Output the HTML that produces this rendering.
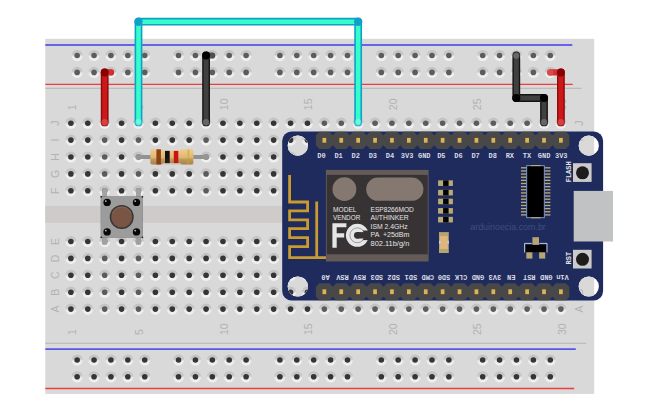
<!DOCTYPE html>
<html><head><meta charset="utf-8"><style>
html,body{margin:0;padding:0;background:#fff;width:660px;height:420px;overflow:hidden;}
svg{display:block;font-family:"Liberation Sans",sans-serif;}
</style></head><body>
<svg width="660" height="420" viewBox="0 0 660 420">
<defs>
<linearGradient id="ring" x1="0" y1="0" x2="0" y2="1">
<stop offset="0" stop-color="#c2c2c2"/><stop offset="0.42" stop-color="#c8c8c8"/><stop offset="0.58" stop-color="#ebebeb"/><stop offset="1" stop-color="#f3f3f3"/>
</linearGradient>
<linearGradient id="res" x1="0" y1="0" x2="0" y2="1">
<stop offset="0" stop-color="#f0cc90"/><stop offset="0.55" stop-color="#dfb574"/><stop offset="1" stop-color="#b88e52"/>
</linearGradient>
</defs>
<clipPath id="mh"><circle cx="297.8" cy="145.7" r="10.1"/><circle cx="588.8" cy="145.7" r="10.1"/><circle cx="297.8" cy="286.5" r="10.1"/><circle cx="588.8" cy="286.5" r="10.1"/></clipPath>
<rect width="660" height="420" fill="#fff"/>
<g>
<rect x="45.3" y="38.8" width="548.9" height="355.1" fill="#d9d9d9"/>
<rect x="45.3" y="205.9" width="548.9" height="16.9" fill="#cecbc9"/>
<line x1="45.3" y1="45.0" x2="572.3" y2="45.0" stroke="#6464ea" stroke-width="1.8"/>
<line x1="45.3" y1="84.4" x2="572.8" y2="84.4" stroke="#f03c3c" stroke-width="1.4"/>
<line x1="45.3" y1="88.4" x2="581.7" y2="88.4" stroke="#bcbcbc" stroke-width="1.2"/>
<line x1="45.3" y1="343.45" x2="586.2" y2="343.45" stroke="#bcbcbc" stroke-width="1.2"/>
<line x1="45.3" y1="349.05" x2="575.8" y2="349.05" stroke="#5656ec" stroke-width="1.8"/>
<line x1="45.3" y1="388.5" x2="574.2" y2="388.5" stroke="#f03c3c" stroke-width="1.4"/>
<circle cx="70.9" cy="123.2" r="5.6" fill="url(#ring)"/>
<circle cx="70.9" cy="123.2" r="2.8" fill="#353535"/>
<circle cx="87.8" cy="123.2" r="5.6" fill="url(#ring)"/>
<circle cx="87.8" cy="123.2" r="2.8" fill="#353535"/>
<circle cx="104.69" cy="123.2" r="5.6" fill="url(#ring)"/>
<circle cx="104.69" cy="123.2" r="2.8" fill="#5c5c5c"/>
<circle cx="121.59" cy="123.2" r="5.6" fill="url(#ring)"/>
<circle cx="121.59" cy="123.2" r="2.8" fill="#353535"/>
<circle cx="138.49" cy="123.2" r="5.6" fill="url(#ring)"/>
<circle cx="138.49" cy="123.2" r="2.8" fill="#5c5c5c"/>
<circle cx="155.38" cy="123.2" r="5.6" fill="url(#ring)"/>
<circle cx="155.38" cy="123.2" r="2.8" fill="#353535"/>
<circle cx="172.28" cy="123.2" r="5.6" fill="url(#ring)"/>
<circle cx="172.28" cy="123.2" r="2.8" fill="#353535"/>
<circle cx="189.18" cy="123.2" r="5.6" fill="url(#ring)"/>
<circle cx="189.18" cy="123.2" r="2.8" fill="#353535"/>
<circle cx="206.08" cy="123.2" r="5.6" fill="url(#ring)"/>
<circle cx="206.08" cy="123.2" r="2.8" fill="#5c5c5c"/>
<circle cx="222.97" cy="123.2" r="5.6" fill="url(#ring)"/>
<circle cx="222.97" cy="123.2" r="2.8" fill="#353535"/>
<circle cx="239.87" cy="123.2" r="5.6" fill="url(#ring)"/>
<circle cx="239.87" cy="123.2" r="2.8" fill="#353535"/>
<circle cx="256.77" cy="123.2" r="5.6" fill="url(#ring)"/>
<circle cx="256.77" cy="123.2" r="2.8" fill="#353535"/>
<circle cx="273.66" cy="123.2" r="5.6" fill="url(#ring)"/>
<circle cx="273.66" cy="123.2" r="2.8" fill="#353535"/>
<circle cx="290.56" cy="123.2" r="5.6" fill="url(#ring)"/>
<circle cx="290.56" cy="123.2" r="2.8" fill="#353535"/>
<circle cx="307.46" cy="123.2" r="5.6" fill="url(#ring)"/>
<circle cx="307.46" cy="123.2" r="2.8" fill="#353535"/>
<circle cx="324.36" cy="123.2" r="5.6" fill="url(#ring)"/>
<circle cx="324.36" cy="123.2" r="2.8" fill="#5c5c5c"/>
<circle cx="341.25" cy="123.2" r="5.6" fill="url(#ring)"/>
<circle cx="341.25" cy="123.2" r="2.8" fill="#5c5c5c"/>
<circle cx="358.15" cy="123.2" r="5.6" fill="url(#ring)"/>
<circle cx="358.15" cy="123.2" r="2.8" fill="#5c5c5c"/>
<circle cx="375.05" cy="123.2" r="5.6" fill="url(#ring)"/>
<circle cx="375.05" cy="123.2" r="2.8" fill="#5c5c5c"/>
<circle cx="391.94" cy="123.2" r="5.6" fill="url(#ring)"/>
<circle cx="391.94" cy="123.2" r="2.8" fill="#5c5c5c"/>
<circle cx="408.84" cy="123.2" r="5.6" fill="url(#ring)"/>
<circle cx="408.84" cy="123.2" r="2.8" fill="#5c5c5c"/>
<circle cx="425.74" cy="123.2" r="5.6" fill="url(#ring)"/>
<circle cx="425.74" cy="123.2" r="2.8" fill="#5c5c5c"/>
<circle cx="442.63" cy="123.2" r="5.6" fill="url(#ring)"/>
<circle cx="442.63" cy="123.2" r="2.8" fill="#5c5c5c"/>
<circle cx="459.53" cy="123.2" r="5.6" fill="url(#ring)"/>
<circle cx="459.53" cy="123.2" r="2.8" fill="#5c5c5c"/>
<circle cx="476.43" cy="123.2" r="5.6" fill="url(#ring)"/>
<circle cx="476.43" cy="123.2" r="2.8" fill="#5c5c5c"/>
<circle cx="493.32" cy="123.2" r="5.6" fill="url(#ring)"/>
<circle cx="493.32" cy="123.2" r="2.8" fill="#5c5c5c"/>
<circle cx="510.22" cy="123.2" r="5.6" fill="url(#ring)"/>
<circle cx="510.22" cy="123.2" r="2.8" fill="#5c5c5c"/>
<circle cx="527.12" cy="123.2" r="5.6" fill="url(#ring)"/>
<circle cx="527.12" cy="123.2" r="2.8" fill="#5c5c5c"/>
<circle cx="544.02" cy="123.2" r="5.6" fill="url(#ring)"/>
<circle cx="544.02" cy="123.2" r="2.8" fill="#5c5c5c"/>
<circle cx="560.91" cy="123.2" r="5.6" fill="url(#ring)"/>
<circle cx="560.91" cy="123.2" r="2.8" fill="#5c5c5c"/>
<circle cx="70.9" cy="140.1" r="5.6" fill="url(#ring)"/>
<circle cx="70.9" cy="140.1" r="2.8" fill="#353535"/>
<circle cx="87.8" cy="140.1" r="5.6" fill="url(#ring)"/>
<circle cx="87.8" cy="140.1" r="2.8" fill="#353535"/>
<circle cx="104.69" cy="140.1" r="5.6" fill="url(#ring)"/>
<circle cx="104.69" cy="140.1" r="2.8" fill="#5c5c5c"/>
<circle cx="121.59" cy="140.1" r="5.6" fill="url(#ring)"/>
<circle cx="121.59" cy="140.1" r="2.8" fill="#353535"/>
<circle cx="138.49" cy="140.1" r="5.6" fill="url(#ring)"/>
<circle cx="138.49" cy="140.1" r="2.8" fill="#5c5c5c"/>
<circle cx="155.38" cy="140.1" r="5.6" fill="url(#ring)"/>
<circle cx="155.38" cy="140.1" r="2.8" fill="#353535"/>
<circle cx="172.28" cy="140.1" r="5.6" fill="url(#ring)"/>
<circle cx="172.28" cy="140.1" r="2.8" fill="#353535"/>
<circle cx="189.18" cy="140.1" r="5.6" fill="url(#ring)"/>
<circle cx="189.18" cy="140.1" r="2.8" fill="#353535"/>
<circle cx="206.08" cy="140.1" r="5.6" fill="url(#ring)"/>
<circle cx="206.08" cy="140.1" r="2.8" fill="#5c5c5c"/>
<circle cx="222.97" cy="140.1" r="5.6" fill="url(#ring)"/>
<circle cx="222.97" cy="140.1" r="2.8" fill="#353535"/>
<circle cx="239.87" cy="140.1" r="5.6" fill="url(#ring)"/>
<circle cx="239.87" cy="140.1" r="2.8" fill="#353535"/>
<circle cx="256.77" cy="140.1" r="5.6" fill="url(#ring)"/>
<circle cx="256.77" cy="140.1" r="2.8" fill="#353535"/>
<circle cx="273.66" cy="140.1" r="5.6" fill="url(#ring)"/>
<circle cx="273.66" cy="140.1" r="2.8" fill="#353535"/>
<circle cx="290.56" cy="140.1" r="5.6" fill="url(#ring)"/>
<circle cx="290.56" cy="140.1" r="2.8" fill="#353535"/>
<circle cx="307.46" cy="140.1" r="5.6" fill="url(#ring)"/>
<circle cx="307.46" cy="140.1" r="2.8" fill="#353535"/>
<circle cx="324.36" cy="140.1" r="5.6" fill="url(#ring)"/>
<circle cx="324.36" cy="140.1" r="2.8" fill="#5c5c5c"/>
<circle cx="341.25" cy="140.1" r="5.6" fill="url(#ring)"/>
<circle cx="341.25" cy="140.1" r="2.8" fill="#5c5c5c"/>
<circle cx="358.15" cy="140.1" r="5.6" fill="url(#ring)"/>
<circle cx="358.15" cy="140.1" r="2.8" fill="#5c5c5c"/>
<circle cx="375.05" cy="140.1" r="5.6" fill="url(#ring)"/>
<circle cx="375.05" cy="140.1" r="2.8" fill="#5c5c5c"/>
<circle cx="391.94" cy="140.1" r="5.6" fill="url(#ring)"/>
<circle cx="391.94" cy="140.1" r="2.8" fill="#5c5c5c"/>
<circle cx="408.84" cy="140.1" r="5.6" fill="url(#ring)"/>
<circle cx="408.84" cy="140.1" r="2.8" fill="#5c5c5c"/>
<circle cx="425.74" cy="140.1" r="5.6" fill="url(#ring)"/>
<circle cx="425.74" cy="140.1" r="2.8" fill="#5c5c5c"/>
<circle cx="442.63" cy="140.1" r="5.6" fill="url(#ring)"/>
<circle cx="442.63" cy="140.1" r="2.8" fill="#5c5c5c"/>
<circle cx="459.53" cy="140.1" r="5.6" fill="url(#ring)"/>
<circle cx="459.53" cy="140.1" r="2.8" fill="#5c5c5c"/>
<circle cx="476.43" cy="140.1" r="5.6" fill="url(#ring)"/>
<circle cx="476.43" cy="140.1" r="2.8" fill="#5c5c5c"/>
<circle cx="493.32" cy="140.1" r="5.6" fill="url(#ring)"/>
<circle cx="493.32" cy="140.1" r="2.8" fill="#5c5c5c"/>
<circle cx="510.22" cy="140.1" r="5.6" fill="url(#ring)"/>
<circle cx="510.22" cy="140.1" r="2.8" fill="#5c5c5c"/>
<circle cx="527.12" cy="140.1" r="5.6" fill="url(#ring)"/>
<circle cx="527.12" cy="140.1" r="2.8" fill="#5c5c5c"/>
<circle cx="544.02" cy="140.1" r="5.6" fill="url(#ring)"/>
<circle cx="544.02" cy="140.1" r="2.8" fill="#5c5c5c"/>
<circle cx="560.91" cy="140.1" r="5.6" fill="url(#ring)"/>
<circle cx="560.91" cy="140.1" r="2.8" fill="#5c5c5c"/>
<circle cx="70.9" cy="157" r="5.6" fill="url(#ring)"/>
<circle cx="70.9" cy="157" r="2.8" fill="#353535"/>
<circle cx="87.8" cy="157" r="5.6" fill="url(#ring)"/>
<circle cx="87.8" cy="157" r="2.8" fill="#353535"/>
<circle cx="104.69" cy="157" r="5.6" fill="url(#ring)"/>
<circle cx="104.69" cy="157" r="2.8" fill="#5c5c5c"/>
<circle cx="121.59" cy="157" r="5.6" fill="url(#ring)"/>
<circle cx="121.59" cy="157" r="2.8" fill="#353535"/>
<circle cx="138.49" cy="157" r="5.6" fill="url(#ring)"/>
<circle cx="138.49" cy="157" r="2.8" fill="#5c5c5c"/>
<circle cx="155.38" cy="157" r="5.6" fill="url(#ring)"/>
<circle cx="155.38" cy="157" r="2.8" fill="#353535"/>
<circle cx="172.28" cy="157" r="5.6" fill="url(#ring)"/>
<circle cx="172.28" cy="157" r="2.8" fill="#353535"/>
<circle cx="189.18" cy="157" r="5.6" fill="url(#ring)"/>
<circle cx="189.18" cy="157" r="2.8" fill="#353535"/>
<circle cx="206.08" cy="157" r="5.6" fill="url(#ring)"/>
<circle cx="206.08" cy="157" r="2.8" fill="#5c5c5c"/>
<circle cx="222.97" cy="157" r="5.6" fill="url(#ring)"/>
<circle cx="222.97" cy="157" r="2.8" fill="#353535"/>
<circle cx="239.87" cy="157" r="5.6" fill="url(#ring)"/>
<circle cx="239.87" cy="157" r="2.8" fill="#353535"/>
<circle cx="256.77" cy="157" r="5.6" fill="url(#ring)"/>
<circle cx="256.77" cy="157" r="2.8" fill="#353535"/>
<circle cx="273.66" cy="157" r="5.6" fill="url(#ring)"/>
<circle cx="273.66" cy="157" r="2.8" fill="#353535"/>
<circle cx="290.56" cy="157" r="5.6" fill="url(#ring)"/>
<circle cx="290.56" cy="157" r="2.8" fill="#353535"/>
<circle cx="307.46" cy="157" r="5.6" fill="url(#ring)"/>
<circle cx="307.46" cy="157" r="2.8" fill="#353535"/>
<circle cx="324.36" cy="157" r="5.6" fill="url(#ring)"/>
<circle cx="324.36" cy="157" r="2.8" fill="#5c5c5c"/>
<circle cx="341.25" cy="157" r="5.6" fill="url(#ring)"/>
<circle cx="341.25" cy="157" r="2.8" fill="#5c5c5c"/>
<circle cx="358.15" cy="157" r="5.6" fill="url(#ring)"/>
<circle cx="358.15" cy="157" r="2.8" fill="#5c5c5c"/>
<circle cx="375.05" cy="157" r="5.6" fill="url(#ring)"/>
<circle cx="375.05" cy="157" r="2.8" fill="#5c5c5c"/>
<circle cx="391.94" cy="157" r="5.6" fill="url(#ring)"/>
<circle cx="391.94" cy="157" r="2.8" fill="#5c5c5c"/>
<circle cx="408.84" cy="157" r="5.6" fill="url(#ring)"/>
<circle cx="408.84" cy="157" r="2.8" fill="#5c5c5c"/>
<circle cx="425.74" cy="157" r="5.6" fill="url(#ring)"/>
<circle cx="425.74" cy="157" r="2.8" fill="#5c5c5c"/>
<circle cx="442.63" cy="157" r="5.6" fill="url(#ring)"/>
<circle cx="442.63" cy="157" r="2.8" fill="#5c5c5c"/>
<circle cx="459.53" cy="157" r="5.6" fill="url(#ring)"/>
<circle cx="459.53" cy="157" r="2.8" fill="#5c5c5c"/>
<circle cx="476.43" cy="157" r="5.6" fill="url(#ring)"/>
<circle cx="476.43" cy="157" r="2.8" fill="#5c5c5c"/>
<circle cx="493.32" cy="157" r="5.6" fill="url(#ring)"/>
<circle cx="493.32" cy="157" r="2.8" fill="#5c5c5c"/>
<circle cx="510.22" cy="157" r="5.6" fill="url(#ring)"/>
<circle cx="510.22" cy="157" r="2.8" fill="#5c5c5c"/>
<circle cx="527.12" cy="157" r="5.6" fill="url(#ring)"/>
<circle cx="527.12" cy="157" r="2.8" fill="#5c5c5c"/>
<circle cx="544.02" cy="157" r="5.6" fill="url(#ring)"/>
<circle cx="544.02" cy="157" r="2.8" fill="#5c5c5c"/>
<circle cx="560.91" cy="157" r="5.6" fill="url(#ring)"/>
<circle cx="560.91" cy="157" r="2.8" fill="#5c5c5c"/>
<circle cx="70.9" cy="173.9" r="5.6" fill="url(#ring)"/>
<circle cx="70.9" cy="173.9" r="2.8" fill="#353535"/>
<circle cx="87.8" cy="173.9" r="5.6" fill="url(#ring)"/>
<circle cx="87.8" cy="173.9" r="2.8" fill="#353535"/>
<circle cx="104.69" cy="173.9" r="5.6" fill="url(#ring)"/>
<circle cx="104.69" cy="173.9" r="2.8" fill="#5c5c5c"/>
<circle cx="121.59" cy="173.9" r="5.6" fill="url(#ring)"/>
<circle cx="121.59" cy="173.9" r="2.8" fill="#353535"/>
<circle cx="138.49" cy="173.9" r="5.6" fill="url(#ring)"/>
<circle cx="138.49" cy="173.9" r="2.8" fill="#5c5c5c"/>
<circle cx="155.38" cy="173.9" r="5.6" fill="url(#ring)"/>
<circle cx="155.38" cy="173.9" r="2.8" fill="#353535"/>
<circle cx="172.28" cy="173.9" r="5.6" fill="url(#ring)"/>
<circle cx="172.28" cy="173.9" r="2.8" fill="#353535"/>
<circle cx="189.18" cy="173.9" r="5.6" fill="url(#ring)"/>
<circle cx="189.18" cy="173.9" r="2.8" fill="#353535"/>
<circle cx="206.08" cy="173.9" r="5.6" fill="url(#ring)"/>
<circle cx="206.08" cy="173.9" r="2.8" fill="#5c5c5c"/>
<circle cx="222.97" cy="173.9" r="5.6" fill="url(#ring)"/>
<circle cx="222.97" cy="173.9" r="2.8" fill="#353535"/>
<circle cx="239.87" cy="173.9" r="5.6" fill="url(#ring)"/>
<circle cx="239.87" cy="173.9" r="2.8" fill="#353535"/>
<circle cx="256.77" cy="173.9" r="5.6" fill="url(#ring)"/>
<circle cx="256.77" cy="173.9" r="2.8" fill="#353535"/>
<circle cx="273.66" cy="173.9" r="5.6" fill="url(#ring)"/>
<circle cx="273.66" cy="173.9" r="2.8" fill="#353535"/>
<circle cx="290.56" cy="173.9" r="5.6" fill="url(#ring)"/>
<circle cx="290.56" cy="173.9" r="2.8" fill="#353535"/>
<circle cx="307.46" cy="173.9" r="5.6" fill="url(#ring)"/>
<circle cx="307.46" cy="173.9" r="2.8" fill="#353535"/>
<circle cx="324.36" cy="173.9" r="5.6" fill="url(#ring)"/>
<circle cx="324.36" cy="173.9" r="2.8" fill="#5c5c5c"/>
<circle cx="341.25" cy="173.9" r="5.6" fill="url(#ring)"/>
<circle cx="341.25" cy="173.9" r="2.8" fill="#5c5c5c"/>
<circle cx="358.15" cy="173.9" r="5.6" fill="url(#ring)"/>
<circle cx="358.15" cy="173.9" r="2.8" fill="#5c5c5c"/>
<circle cx="375.05" cy="173.9" r="5.6" fill="url(#ring)"/>
<circle cx="375.05" cy="173.9" r="2.8" fill="#5c5c5c"/>
<circle cx="391.94" cy="173.9" r="5.6" fill="url(#ring)"/>
<circle cx="391.94" cy="173.9" r="2.8" fill="#5c5c5c"/>
<circle cx="408.84" cy="173.9" r="5.6" fill="url(#ring)"/>
<circle cx="408.84" cy="173.9" r="2.8" fill="#5c5c5c"/>
<circle cx="425.74" cy="173.9" r="5.6" fill="url(#ring)"/>
<circle cx="425.74" cy="173.9" r="2.8" fill="#5c5c5c"/>
<circle cx="442.63" cy="173.9" r="5.6" fill="url(#ring)"/>
<circle cx="442.63" cy="173.9" r="2.8" fill="#5c5c5c"/>
<circle cx="459.53" cy="173.9" r="5.6" fill="url(#ring)"/>
<circle cx="459.53" cy="173.9" r="2.8" fill="#5c5c5c"/>
<circle cx="476.43" cy="173.9" r="5.6" fill="url(#ring)"/>
<circle cx="476.43" cy="173.9" r="2.8" fill="#5c5c5c"/>
<circle cx="493.32" cy="173.9" r="5.6" fill="url(#ring)"/>
<circle cx="493.32" cy="173.9" r="2.8" fill="#5c5c5c"/>
<circle cx="510.22" cy="173.9" r="5.6" fill="url(#ring)"/>
<circle cx="510.22" cy="173.9" r="2.8" fill="#5c5c5c"/>
<circle cx="527.12" cy="173.9" r="5.6" fill="url(#ring)"/>
<circle cx="527.12" cy="173.9" r="2.8" fill="#5c5c5c"/>
<circle cx="544.02" cy="173.9" r="5.6" fill="url(#ring)"/>
<circle cx="544.02" cy="173.9" r="2.8" fill="#5c5c5c"/>
<circle cx="560.91" cy="173.9" r="5.6" fill="url(#ring)"/>
<circle cx="560.91" cy="173.9" r="2.8" fill="#5c5c5c"/>
<circle cx="70.9" cy="190.8" r="5.6" fill="url(#ring)"/>
<circle cx="70.9" cy="190.8" r="2.8" fill="#353535"/>
<circle cx="87.8" cy="190.8" r="5.6" fill="url(#ring)"/>
<circle cx="87.8" cy="190.8" r="2.8" fill="#353535"/>
<circle cx="104.69" cy="190.8" r="5.6" fill="url(#ring)"/>
<circle cx="104.69" cy="190.8" r="2.8" fill="#5c5c5c"/>
<circle cx="121.59" cy="190.8" r="5.6" fill="url(#ring)"/>
<circle cx="121.59" cy="190.8" r="2.8" fill="#353535"/>
<circle cx="138.49" cy="190.8" r="5.6" fill="url(#ring)"/>
<circle cx="138.49" cy="190.8" r="2.8" fill="#5c5c5c"/>
<circle cx="155.38" cy="190.8" r="5.6" fill="url(#ring)"/>
<circle cx="155.38" cy="190.8" r="2.8" fill="#353535"/>
<circle cx="172.28" cy="190.8" r="5.6" fill="url(#ring)"/>
<circle cx="172.28" cy="190.8" r="2.8" fill="#353535"/>
<circle cx="189.18" cy="190.8" r="5.6" fill="url(#ring)"/>
<circle cx="189.18" cy="190.8" r="2.8" fill="#353535"/>
<circle cx="206.08" cy="190.8" r="5.6" fill="url(#ring)"/>
<circle cx="206.08" cy="190.8" r="2.8" fill="#5c5c5c"/>
<circle cx="222.97" cy="190.8" r="5.6" fill="url(#ring)"/>
<circle cx="222.97" cy="190.8" r="2.8" fill="#353535"/>
<circle cx="239.87" cy="190.8" r="5.6" fill="url(#ring)"/>
<circle cx="239.87" cy="190.8" r="2.8" fill="#353535"/>
<circle cx="256.77" cy="190.8" r="5.6" fill="url(#ring)"/>
<circle cx="256.77" cy="190.8" r="2.8" fill="#353535"/>
<circle cx="273.66" cy="190.8" r="5.6" fill="url(#ring)"/>
<circle cx="273.66" cy="190.8" r="2.8" fill="#353535"/>
<circle cx="290.56" cy="190.8" r="5.6" fill="url(#ring)"/>
<circle cx="290.56" cy="190.8" r="2.8" fill="#353535"/>
<circle cx="307.46" cy="190.8" r="5.6" fill="url(#ring)"/>
<circle cx="307.46" cy="190.8" r="2.8" fill="#353535"/>
<circle cx="324.36" cy="190.8" r="5.6" fill="url(#ring)"/>
<circle cx="324.36" cy="190.8" r="2.8" fill="#5c5c5c"/>
<circle cx="341.25" cy="190.8" r="5.6" fill="url(#ring)"/>
<circle cx="341.25" cy="190.8" r="2.8" fill="#5c5c5c"/>
<circle cx="358.15" cy="190.8" r="5.6" fill="url(#ring)"/>
<circle cx="358.15" cy="190.8" r="2.8" fill="#5c5c5c"/>
<circle cx="375.05" cy="190.8" r="5.6" fill="url(#ring)"/>
<circle cx="375.05" cy="190.8" r="2.8" fill="#5c5c5c"/>
<circle cx="391.94" cy="190.8" r="5.6" fill="url(#ring)"/>
<circle cx="391.94" cy="190.8" r="2.8" fill="#5c5c5c"/>
<circle cx="408.84" cy="190.8" r="5.6" fill="url(#ring)"/>
<circle cx="408.84" cy="190.8" r="2.8" fill="#5c5c5c"/>
<circle cx="425.74" cy="190.8" r="5.6" fill="url(#ring)"/>
<circle cx="425.74" cy="190.8" r="2.8" fill="#5c5c5c"/>
<circle cx="442.63" cy="190.8" r="5.6" fill="url(#ring)"/>
<circle cx="442.63" cy="190.8" r="2.8" fill="#5c5c5c"/>
<circle cx="459.53" cy="190.8" r="5.6" fill="url(#ring)"/>
<circle cx="459.53" cy="190.8" r="2.8" fill="#5c5c5c"/>
<circle cx="476.43" cy="190.8" r="5.6" fill="url(#ring)"/>
<circle cx="476.43" cy="190.8" r="2.8" fill="#5c5c5c"/>
<circle cx="493.32" cy="190.8" r="5.6" fill="url(#ring)"/>
<circle cx="493.32" cy="190.8" r="2.8" fill="#5c5c5c"/>
<circle cx="510.22" cy="190.8" r="5.6" fill="url(#ring)"/>
<circle cx="510.22" cy="190.8" r="2.8" fill="#5c5c5c"/>
<circle cx="527.12" cy="190.8" r="5.6" fill="url(#ring)"/>
<circle cx="527.12" cy="190.8" r="2.8" fill="#5c5c5c"/>
<circle cx="544.02" cy="190.8" r="5.6" fill="url(#ring)"/>
<circle cx="544.02" cy="190.8" r="2.8" fill="#5c5c5c"/>
<circle cx="560.91" cy="190.8" r="5.6" fill="url(#ring)"/>
<circle cx="560.91" cy="190.8" r="2.8" fill="#5c5c5c"/>
<circle cx="70.9" cy="241.5" r="5.6" fill="url(#ring)"/>
<circle cx="70.9" cy="241.5" r="2.8" fill="#353535"/>
<circle cx="87.8" cy="241.5" r="5.6" fill="url(#ring)"/>
<circle cx="87.8" cy="241.5" r="2.8" fill="#353535"/>
<circle cx="104.69" cy="241.5" r="5.6" fill="url(#ring)"/>
<circle cx="104.69" cy="241.5" r="2.8" fill="#5c5c5c"/>
<circle cx="121.59" cy="241.5" r="5.6" fill="url(#ring)"/>
<circle cx="121.59" cy="241.5" r="2.8" fill="#353535"/>
<circle cx="138.49" cy="241.5" r="5.6" fill="url(#ring)"/>
<circle cx="138.49" cy="241.5" r="2.8" fill="#5c5c5c"/>
<circle cx="155.38" cy="241.5" r="5.6" fill="url(#ring)"/>
<circle cx="155.38" cy="241.5" r="2.8" fill="#353535"/>
<circle cx="172.28" cy="241.5" r="5.6" fill="url(#ring)"/>
<circle cx="172.28" cy="241.5" r="2.8" fill="#353535"/>
<circle cx="189.18" cy="241.5" r="5.6" fill="url(#ring)"/>
<circle cx="189.18" cy="241.5" r="2.8" fill="#353535"/>
<circle cx="206.08" cy="241.5" r="5.6" fill="url(#ring)"/>
<circle cx="206.08" cy="241.5" r="2.8" fill="#353535"/>
<circle cx="222.97" cy="241.5" r="5.6" fill="url(#ring)"/>
<circle cx="222.97" cy="241.5" r="2.8" fill="#353535"/>
<circle cx="239.87" cy="241.5" r="5.6" fill="url(#ring)"/>
<circle cx="239.87" cy="241.5" r="2.8" fill="#353535"/>
<circle cx="256.77" cy="241.5" r="5.6" fill="url(#ring)"/>
<circle cx="256.77" cy="241.5" r="2.8" fill="#353535"/>
<circle cx="273.66" cy="241.5" r="5.6" fill="url(#ring)"/>
<circle cx="273.66" cy="241.5" r="2.8" fill="#353535"/>
<circle cx="290.56" cy="241.5" r="5.6" fill="url(#ring)"/>
<circle cx="290.56" cy="241.5" r="2.8" fill="#353535"/>
<circle cx="307.46" cy="241.5" r="5.6" fill="url(#ring)"/>
<circle cx="307.46" cy="241.5" r="2.8" fill="#353535"/>
<circle cx="324.36" cy="241.5" r="5.6" fill="url(#ring)"/>
<circle cx="324.36" cy="241.5" r="2.8" fill="#5c5c5c"/>
<circle cx="341.25" cy="241.5" r="5.6" fill="url(#ring)"/>
<circle cx="341.25" cy="241.5" r="2.8" fill="#5c5c5c"/>
<circle cx="358.15" cy="241.5" r="5.6" fill="url(#ring)"/>
<circle cx="358.15" cy="241.5" r="2.8" fill="#5c5c5c"/>
<circle cx="375.05" cy="241.5" r="5.6" fill="url(#ring)"/>
<circle cx="375.05" cy="241.5" r="2.8" fill="#5c5c5c"/>
<circle cx="391.94" cy="241.5" r="5.6" fill="url(#ring)"/>
<circle cx="391.94" cy="241.5" r="2.8" fill="#5c5c5c"/>
<circle cx="408.84" cy="241.5" r="5.6" fill="url(#ring)"/>
<circle cx="408.84" cy="241.5" r="2.8" fill="#5c5c5c"/>
<circle cx="425.74" cy="241.5" r="5.6" fill="url(#ring)"/>
<circle cx="425.74" cy="241.5" r="2.8" fill="#5c5c5c"/>
<circle cx="442.63" cy="241.5" r="5.6" fill="url(#ring)"/>
<circle cx="442.63" cy="241.5" r="2.8" fill="#5c5c5c"/>
<circle cx="459.53" cy="241.5" r="5.6" fill="url(#ring)"/>
<circle cx="459.53" cy="241.5" r="2.8" fill="#5c5c5c"/>
<circle cx="476.43" cy="241.5" r="5.6" fill="url(#ring)"/>
<circle cx="476.43" cy="241.5" r="2.8" fill="#5c5c5c"/>
<circle cx="493.32" cy="241.5" r="5.6" fill="url(#ring)"/>
<circle cx="493.32" cy="241.5" r="2.8" fill="#5c5c5c"/>
<circle cx="510.22" cy="241.5" r="5.6" fill="url(#ring)"/>
<circle cx="510.22" cy="241.5" r="2.8" fill="#5c5c5c"/>
<circle cx="527.12" cy="241.5" r="5.6" fill="url(#ring)"/>
<circle cx="527.12" cy="241.5" r="2.8" fill="#5c5c5c"/>
<circle cx="544.02" cy="241.5" r="5.6" fill="url(#ring)"/>
<circle cx="544.02" cy="241.5" r="2.8" fill="#5c5c5c"/>
<circle cx="560.91" cy="241.5" r="5.6" fill="url(#ring)"/>
<circle cx="560.91" cy="241.5" r="2.8" fill="#5c5c5c"/>
<circle cx="70.9" cy="258.4" r="5.6" fill="url(#ring)"/>
<circle cx="70.9" cy="258.4" r="2.8" fill="#353535"/>
<circle cx="87.8" cy="258.4" r="5.6" fill="url(#ring)"/>
<circle cx="87.8" cy="258.4" r="2.8" fill="#353535"/>
<circle cx="104.69" cy="258.4" r="5.6" fill="url(#ring)"/>
<circle cx="104.69" cy="258.4" r="2.8" fill="#5c5c5c"/>
<circle cx="121.59" cy="258.4" r="5.6" fill="url(#ring)"/>
<circle cx="121.59" cy="258.4" r="2.8" fill="#353535"/>
<circle cx="138.49" cy="258.4" r="5.6" fill="url(#ring)"/>
<circle cx="138.49" cy="258.4" r="2.8" fill="#5c5c5c"/>
<circle cx="155.38" cy="258.4" r="5.6" fill="url(#ring)"/>
<circle cx="155.38" cy="258.4" r="2.8" fill="#353535"/>
<circle cx="172.28" cy="258.4" r="5.6" fill="url(#ring)"/>
<circle cx="172.28" cy="258.4" r="2.8" fill="#353535"/>
<circle cx="189.18" cy="258.4" r="5.6" fill="url(#ring)"/>
<circle cx="189.18" cy="258.4" r="2.8" fill="#353535"/>
<circle cx="206.08" cy="258.4" r="5.6" fill="url(#ring)"/>
<circle cx="206.08" cy="258.4" r="2.8" fill="#353535"/>
<circle cx="222.97" cy="258.4" r="5.6" fill="url(#ring)"/>
<circle cx="222.97" cy="258.4" r="2.8" fill="#353535"/>
<circle cx="239.87" cy="258.4" r="5.6" fill="url(#ring)"/>
<circle cx="239.87" cy="258.4" r="2.8" fill="#353535"/>
<circle cx="256.77" cy="258.4" r="5.6" fill="url(#ring)"/>
<circle cx="256.77" cy="258.4" r="2.8" fill="#353535"/>
<circle cx="273.66" cy="258.4" r="5.6" fill="url(#ring)"/>
<circle cx="273.66" cy="258.4" r="2.8" fill="#353535"/>
<circle cx="290.56" cy="258.4" r="5.6" fill="url(#ring)"/>
<circle cx="290.56" cy="258.4" r="2.8" fill="#353535"/>
<circle cx="307.46" cy="258.4" r="5.6" fill="url(#ring)"/>
<circle cx="307.46" cy="258.4" r="2.8" fill="#353535"/>
<circle cx="324.36" cy="258.4" r="5.6" fill="url(#ring)"/>
<circle cx="324.36" cy="258.4" r="2.8" fill="#5c5c5c"/>
<circle cx="341.25" cy="258.4" r="5.6" fill="url(#ring)"/>
<circle cx="341.25" cy="258.4" r="2.8" fill="#5c5c5c"/>
<circle cx="358.15" cy="258.4" r="5.6" fill="url(#ring)"/>
<circle cx="358.15" cy="258.4" r="2.8" fill="#5c5c5c"/>
<circle cx="375.05" cy="258.4" r="5.6" fill="url(#ring)"/>
<circle cx="375.05" cy="258.4" r="2.8" fill="#5c5c5c"/>
<circle cx="391.94" cy="258.4" r="5.6" fill="url(#ring)"/>
<circle cx="391.94" cy="258.4" r="2.8" fill="#5c5c5c"/>
<circle cx="408.84" cy="258.4" r="5.6" fill="url(#ring)"/>
<circle cx="408.84" cy="258.4" r="2.8" fill="#5c5c5c"/>
<circle cx="425.74" cy="258.4" r="5.6" fill="url(#ring)"/>
<circle cx="425.74" cy="258.4" r="2.8" fill="#5c5c5c"/>
<circle cx="442.63" cy="258.4" r="5.6" fill="url(#ring)"/>
<circle cx="442.63" cy="258.4" r="2.8" fill="#5c5c5c"/>
<circle cx="459.53" cy="258.4" r="5.6" fill="url(#ring)"/>
<circle cx="459.53" cy="258.4" r="2.8" fill="#5c5c5c"/>
<circle cx="476.43" cy="258.4" r="5.6" fill="url(#ring)"/>
<circle cx="476.43" cy="258.4" r="2.8" fill="#5c5c5c"/>
<circle cx="493.32" cy="258.4" r="5.6" fill="url(#ring)"/>
<circle cx="493.32" cy="258.4" r="2.8" fill="#5c5c5c"/>
<circle cx="510.22" cy="258.4" r="5.6" fill="url(#ring)"/>
<circle cx="510.22" cy="258.4" r="2.8" fill="#5c5c5c"/>
<circle cx="527.12" cy="258.4" r="5.6" fill="url(#ring)"/>
<circle cx="527.12" cy="258.4" r="2.8" fill="#5c5c5c"/>
<circle cx="544.02" cy="258.4" r="5.6" fill="url(#ring)"/>
<circle cx="544.02" cy="258.4" r="2.8" fill="#5c5c5c"/>
<circle cx="560.91" cy="258.4" r="5.6" fill="url(#ring)"/>
<circle cx="560.91" cy="258.4" r="2.8" fill="#5c5c5c"/>
<circle cx="70.9" cy="275.3" r="5.6" fill="url(#ring)"/>
<circle cx="70.9" cy="275.3" r="2.8" fill="#353535"/>
<circle cx="87.8" cy="275.3" r="5.6" fill="url(#ring)"/>
<circle cx="87.8" cy="275.3" r="2.8" fill="#353535"/>
<circle cx="104.69" cy="275.3" r="5.6" fill="url(#ring)"/>
<circle cx="104.69" cy="275.3" r="2.8" fill="#5c5c5c"/>
<circle cx="121.59" cy="275.3" r="5.6" fill="url(#ring)"/>
<circle cx="121.59" cy="275.3" r="2.8" fill="#353535"/>
<circle cx="138.49" cy="275.3" r="5.6" fill="url(#ring)"/>
<circle cx="138.49" cy="275.3" r="2.8" fill="#5c5c5c"/>
<circle cx="155.38" cy="275.3" r="5.6" fill="url(#ring)"/>
<circle cx="155.38" cy="275.3" r="2.8" fill="#353535"/>
<circle cx="172.28" cy="275.3" r="5.6" fill="url(#ring)"/>
<circle cx="172.28" cy="275.3" r="2.8" fill="#353535"/>
<circle cx="189.18" cy="275.3" r="5.6" fill="url(#ring)"/>
<circle cx="189.18" cy="275.3" r="2.8" fill="#353535"/>
<circle cx="206.08" cy="275.3" r="5.6" fill="url(#ring)"/>
<circle cx="206.08" cy="275.3" r="2.8" fill="#353535"/>
<circle cx="222.97" cy="275.3" r="5.6" fill="url(#ring)"/>
<circle cx="222.97" cy="275.3" r="2.8" fill="#353535"/>
<circle cx="239.87" cy="275.3" r="5.6" fill="url(#ring)"/>
<circle cx="239.87" cy="275.3" r="2.8" fill="#353535"/>
<circle cx="256.77" cy="275.3" r="5.6" fill="url(#ring)"/>
<circle cx="256.77" cy="275.3" r="2.8" fill="#353535"/>
<circle cx="273.66" cy="275.3" r="5.6" fill="url(#ring)"/>
<circle cx="273.66" cy="275.3" r="2.8" fill="#353535"/>
<circle cx="290.56" cy="275.3" r="5.6" fill="url(#ring)"/>
<circle cx="290.56" cy="275.3" r="2.8" fill="#353535"/>
<circle cx="307.46" cy="275.3" r="5.6" fill="url(#ring)"/>
<circle cx="307.46" cy="275.3" r="2.8" fill="#353535"/>
<circle cx="324.36" cy="275.3" r="5.6" fill="url(#ring)"/>
<circle cx="324.36" cy="275.3" r="2.8" fill="#5c5c5c"/>
<circle cx="341.25" cy="275.3" r="5.6" fill="url(#ring)"/>
<circle cx="341.25" cy="275.3" r="2.8" fill="#5c5c5c"/>
<circle cx="358.15" cy="275.3" r="5.6" fill="url(#ring)"/>
<circle cx="358.15" cy="275.3" r="2.8" fill="#5c5c5c"/>
<circle cx="375.05" cy="275.3" r="5.6" fill="url(#ring)"/>
<circle cx="375.05" cy="275.3" r="2.8" fill="#5c5c5c"/>
<circle cx="391.94" cy="275.3" r="5.6" fill="url(#ring)"/>
<circle cx="391.94" cy="275.3" r="2.8" fill="#5c5c5c"/>
<circle cx="408.84" cy="275.3" r="5.6" fill="url(#ring)"/>
<circle cx="408.84" cy="275.3" r="2.8" fill="#5c5c5c"/>
<circle cx="425.74" cy="275.3" r="5.6" fill="url(#ring)"/>
<circle cx="425.74" cy="275.3" r="2.8" fill="#5c5c5c"/>
<circle cx="442.63" cy="275.3" r="5.6" fill="url(#ring)"/>
<circle cx="442.63" cy="275.3" r="2.8" fill="#5c5c5c"/>
<circle cx="459.53" cy="275.3" r="5.6" fill="url(#ring)"/>
<circle cx="459.53" cy="275.3" r="2.8" fill="#5c5c5c"/>
<circle cx="476.43" cy="275.3" r="5.6" fill="url(#ring)"/>
<circle cx="476.43" cy="275.3" r="2.8" fill="#5c5c5c"/>
<circle cx="493.32" cy="275.3" r="5.6" fill="url(#ring)"/>
<circle cx="493.32" cy="275.3" r="2.8" fill="#5c5c5c"/>
<circle cx="510.22" cy="275.3" r="5.6" fill="url(#ring)"/>
<circle cx="510.22" cy="275.3" r="2.8" fill="#5c5c5c"/>
<circle cx="527.12" cy="275.3" r="5.6" fill="url(#ring)"/>
<circle cx="527.12" cy="275.3" r="2.8" fill="#5c5c5c"/>
<circle cx="544.02" cy="275.3" r="5.6" fill="url(#ring)"/>
<circle cx="544.02" cy="275.3" r="2.8" fill="#5c5c5c"/>
<circle cx="560.91" cy="275.3" r="5.6" fill="url(#ring)"/>
<circle cx="560.91" cy="275.3" r="2.8" fill="#5c5c5c"/>
<circle cx="70.9" cy="292.2" r="5.6" fill="url(#ring)"/>
<circle cx="70.9" cy="292.2" r="2.8" fill="#353535"/>
<circle cx="87.8" cy="292.2" r="5.6" fill="url(#ring)"/>
<circle cx="87.8" cy="292.2" r="2.8" fill="#353535"/>
<circle cx="104.69" cy="292.2" r="5.6" fill="url(#ring)"/>
<circle cx="104.69" cy="292.2" r="2.8" fill="#5c5c5c"/>
<circle cx="121.59" cy="292.2" r="5.6" fill="url(#ring)"/>
<circle cx="121.59" cy="292.2" r="2.8" fill="#353535"/>
<circle cx="138.49" cy="292.2" r="5.6" fill="url(#ring)"/>
<circle cx="138.49" cy="292.2" r="2.8" fill="#5c5c5c"/>
<circle cx="155.38" cy="292.2" r="5.6" fill="url(#ring)"/>
<circle cx="155.38" cy="292.2" r="2.8" fill="#353535"/>
<circle cx="172.28" cy="292.2" r="5.6" fill="url(#ring)"/>
<circle cx="172.28" cy="292.2" r="2.8" fill="#353535"/>
<circle cx="189.18" cy="292.2" r="5.6" fill="url(#ring)"/>
<circle cx="189.18" cy="292.2" r="2.8" fill="#353535"/>
<circle cx="206.08" cy="292.2" r="5.6" fill="url(#ring)"/>
<circle cx="206.08" cy="292.2" r="2.8" fill="#353535"/>
<circle cx="222.97" cy="292.2" r="5.6" fill="url(#ring)"/>
<circle cx="222.97" cy="292.2" r="2.8" fill="#353535"/>
<circle cx="239.87" cy="292.2" r="5.6" fill="url(#ring)"/>
<circle cx="239.87" cy="292.2" r="2.8" fill="#353535"/>
<circle cx="256.77" cy="292.2" r="5.6" fill="url(#ring)"/>
<circle cx="256.77" cy="292.2" r="2.8" fill="#353535"/>
<circle cx="273.66" cy="292.2" r="5.6" fill="url(#ring)"/>
<circle cx="273.66" cy="292.2" r="2.8" fill="#353535"/>
<circle cx="290.56" cy="292.2" r="5.6" fill="url(#ring)"/>
<circle cx="290.56" cy="292.2" r="2.8" fill="#353535"/>
<circle cx="307.46" cy="292.2" r="5.6" fill="url(#ring)"/>
<circle cx="307.46" cy="292.2" r="2.8" fill="#353535"/>
<circle cx="324.36" cy="292.2" r="5.6" fill="url(#ring)"/>
<circle cx="324.36" cy="292.2" r="2.8" fill="#5c5c5c"/>
<circle cx="341.25" cy="292.2" r="5.6" fill="url(#ring)"/>
<circle cx="341.25" cy="292.2" r="2.8" fill="#5c5c5c"/>
<circle cx="358.15" cy="292.2" r="5.6" fill="url(#ring)"/>
<circle cx="358.15" cy="292.2" r="2.8" fill="#5c5c5c"/>
<circle cx="375.05" cy="292.2" r="5.6" fill="url(#ring)"/>
<circle cx="375.05" cy="292.2" r="2.8" fill="#5c5c5c"/>
<circle cx="391.94" cy="292.2" r="5.6" fill="url(#ring)"/>
<circle cx="391.94" cy="292.2" r="2.8" fill="#5c5c5c"/>
<circle cx="408.84" cy="292.2" r="5.6" fill="url(#ring)"/>
<circle cx="408.84" cy="292.2" r="2.8" fill="#5c5c5c"/>
<circle cx="425.74" cy="292.2" r="5.6" fill="url(#ring)"/>
<circle cx="425.74" cy="292.2" r="2.8" fill="#5c5c5c"/>
<circle cx="442.63" cy="292.2" r="5.6" fill="url(#ring)"/>
<circle cx="442.63" cy="292.2" r="2.8" fill="#5c5c5c"/>
<circle cx="459.53" cy="292.2" r="5.6" fill="url(#ring)"/>
<circle cx="459.53" cy="292.2" r="2.8" fill="#5c5c5c"/>
<circle cx="476.43" cy="292.2" r="5.6" fill="url(#ring)"/>
<circle cx="476.43" cy="292.2" r="2.8" fill="#5c5c5c"/>
<circle cx="493.32" cy="292.2" r="5.6" fill="url(#ring)"/>
<circle cx="493.32" cy="292.2" r="2.8" fill="#5c5c5c"/>
<circle cx="510.22" cy="292.2" r="5.6" fill="url(#ring)"/>
<circle cx="510.22" cy="292.2" r="2.8" fill="#5c5c5c"/>
<circle cx="527.12" cy="292.2" r="5.6" fill="url(#ring)"/>
<circle cx="527.12" cy="292.2" r="2.8" fill="#5c5c5c"/>
<circle cx="544.02" cy="292.2" r="5.6" fill="url(#ring)"/>
<circle cx="544.02" cy="292.2" r="2.8" fill="#5c5c5c"/>
<circle cx="560.91" cy="292.2" r="5.6" fill="url(#ring)"/>
<circle cx="560.91" cy="292.2" r="2.8" fill="#5c5c5c"/>
<circle cx="70.9" cy="309.1" r="5.6" fill="url(#ring)"/>
<circle cx="70.9" cy="309.1" r="2.8" fill="#353535"/>
<circle cx="87.8" cy="309.1" r="5.6" fill="url(#ring)"/>
<circle cx="87.8" cy="309.1" r="2.8" fill="#353535"/>
<circle cx="104.69" cy="309.1" r="5.6" fill="url(#ring)"/>
<circle cx="104.69" cy="309.1" r="2.8" fill="#5c5c5c"/>
<circle cx="121.59" cy="309.1" r="5.6" fill="url(#ring)"/>
<circle cx="121.59" cy="309.1" r="2.8" fill="#353535"/>
<circle cx="138.49" cy="309.1" r="5.6" fill="url(#ring)"/>
<circle cx="138.49" cy="309.1" r="2.8" fill="#5c5c5c"/>
<circle cx="155.38" cy="309.1" r="5.6" fill="url(#ring)"/>
<circle cx="155.38" cy="309.1" r="2.8" fill="#353535"/>
<circle cx="172.28" cy="309.1" r="5.6" fill="url(#ring)"/>
<circle cx="172.28" cy="309.1" r="2.8" fill="#353535"/>
<circle cx="189.18" cy="309.1" r="5.6" fill="url(#ring)"/>
<circle cx="189.18" cy="309.1" r="2.8" fill="#353535"/>
<circle cx="206.08" cy="309.1" r="5.6" fill="url(#ring)"/>
<circle cx="206.08" cy="309.1" r="2.8" fill="#353535"/>
<circle cx="222.97" cy="309.1" r="5.6" fill="url(#ring)"/>
<circle cx="222.97" cy="309.1" r="2.8" fill="#353535"/>
<circle cx="239.87" cy="309.1" r="5.6" fill="url(#ring)"/>
<circle cx="239.87" cy="309.1" r="2.8" fill="#353535"/>
<circle cx="256.77" cy="309.1" r="5.6" fill="url(#ring)"/>
<circle cx="256.77" cy="309.1" r="2.8" fill="#353535"/>
<circle cx="273.66" cy="309.1" r="5.6" fill="url(#ring)"/>
<circle cx="273.66" cy="309.1" r="2.8" fill="#353535"/>
<circle cx="290.56" cy="309.1" r="5.6" fill="url(#ring)"/>
<circle cx="290.56" cy="309.1" r="2.8" fill="#353535"/>
<circle cx="307.46" cy="309.1" r="5.6" fill="url(#ring)"/>
<circle cx="307.46" cy="309.1" r="2.8" fill="#353535"/>
<circle cx="324.36" cy="309.1" r="5.6" fill="url(#ring)"/>
<circle cx="324.36" cy="309.1" r="2.8" fill="#5c5c5c"/>
<circle cx="341.25" cy="309.1" r="5.6" fill="url(#ring)"/>
<circle cx="341.25" cy="309.1" r="2.8" fill="#5c5c5c"/>
<circle cx="358.15" cy="309.1" r="5.6" fill="url(#ring)"/>
<circle cx="358.15" cy="309.1" r="2.8" fill="#5c5c5c"/>
<circle cx="375.05" cy="309.1" r="5.6" fill="url(#ring)"/>
<circle cx="375.05" cy="309.1" r="2.8" fill="#5c5c5c"/>
<circle cx="391.94" cy="309.1" r="5.6" fill="url(#ring)"/>
<circle cx="391.94" cy="309.1" r="2.8" fill="#5c5c5c"/>
<circle cx="408.84" cy="309.1" r="5.6" fill="url(#ring)"/>
<circle cx="408.84" cy="309.1" r="2.8" fill="#5c5c5c"/>
<circle cx="425.74" cy="309.1" r="5.6" fill="url(#ring)"/>
<circle cx="425.74" cy="309.1" r="2.8" fill="#5c5c5c"/>
<circle cx="442.63" cy="309.1" r="5.6" fill="url(#ring)"/>
<circle cx="442.63" cy="309.1" r="2.8" fill="#5c5c5c"/>
<circle cx="459.53" cy="309.1" r="5.6" fill="url(#ring)"/>
<circle cx="459.53" cy="309.1" r="2.8" fill="#5c5c5c"/>
<circle cx="476.43" cy="309.1" r="5.6" fill="url(#ring)"/>
<circle cx="476.43" cy="309.1" r="2.8" fill="#5c5c5c"/>
<circle cx="493.32" cy="309.1" r="5.6" fill="url(#ring)"/>
<circle cx="493.32" cy="309.1" r="2.8" fill="#5c5c5c"/>
<circle cx="510.22" cy="309.1" r="5.6" fill="url(#ring)"/>
<circle cx="510.22" cy="309.1" r="2.8" fill="#5c5c5c"/>
<circle cx="527.12" cy="309.1" r="5.6" fill="url(#ring)"/>
<circle cx="527.12" cy="309.1" r="2.8" fill="#5c5c5c"/>
<circle cx="544.02" cy="309.1" r="5.6" fill="url(#ring)"/>
<circle cx="544.02" cy="309.1" r="2.8" fill="#5c5c5c"/>
<circle cx="560.91" cy="309.1" r="5.6" fill="url(#ring)"/>
<circle cx="560.91" cy="309.1" r="2.8" fill="#5c5c5c"/>
<circle cx="77.15" cy="55.5" r="5.6" fill="url(#ring)"/>
<circle cx="77.15" cy="55.5" r="2.8" fill="#5c5c5c"/>
<circle cx="94.05" cy="55.5" r="5.6" fill="url(#ring)"/>
<circle cx="94.05" cy="55.5" r="2.8" fill="#5c5c5c"/>
<circle cx="110.94" cy="55.5" r="5.6" fill="url(#ring)"/>
<circle cx="110.94" cy="55.5" r="2.8" fill="#5c5c5c"/>
<circle cx="127.84" cy="55.5" r="5.6" fill="url(#ring)"/>
<circle cx="127.84" cy="55.5" r="2.8" fill="#5c5c5c"/>
<circle cx="144.74" cy="55.5" r="5.6" fill="url(#ring)"/>
<circle cx="144.74" cy="55.5" r="2.8" fill="#5c5c5c"/>
<circle cx="178.53" cy="55.5" r="5.6" fill="url(#ring)"/>
<circle cx="178.53" cy="55.5" r="2.8" fill="#5c5c5c"/>
<circle cx="195.43" cy="55.5" r="5.6" fill="url(#ring)"/>
<circle cx="195.43" cy="55.5" r="2.8" fill="#5c5c5c"/>
<circle cx="212.33" cy="55.5" r="5.6" fill="url(#ring)"/>
<circle cx="212.33" cy="55.5" r="2.8" fill="#5c5c5c"/>
<circle cx="229.22" cy="55.5" r="5.6" fill="url(#ring)"/>
<circle cx="229.22" cy="55.5" r="2.8" fill="#5c5c5c"/>
<circle cx="246.12" cy="55.5" r="5.6" fill="url(#ring)"/>
<circle cx="246.12" cy="55.5" r="2.8" fill="#5c5c5c"/>
<circle cx="279.91" cy="55.5" r="5.6" fill="url(#ring)"/>
<circle cx="279.91" cy="55.5" r="2.8" fill="#5c5c5c"/>
<circle cx="296.81" cy="55.5" r="5.6" fill="url(#ring)"/>
<circle cx="296.81" cy="55.5" r="2.8" fill="#5c5c5c"/>
<circle cx="313.71" cy="55.5" r="5.6" fill="url(#ring)"/>
<circle cx="313.71" cy="55.5" r="2.8" fill="#5c5c5c"/>
<circle cx="330.6" cy="55.5" r="5.6" fill="url(#ring)"/>
<circle cx="330.6" cy="55.5" r="2.8" fill="#5c5c5c"/>
<circle cx="347.5" cy="55.5" r="5.6" fill="url(#ring)"/>
<circle cx="347.5" cy="55.5" r="2.8" fill="#5c5c5c"/>
<circle cx="381.3" cy="55.5" r="5.6" fill="url(#ring)"/>
<circle cx="381.3" cy="55.5" r="2.8" fill="#5c5c5c"/>
<circle cx="398.19" cy="55.5" r="5.6" fill="url(#ring)"/>
<circle cx="398.19" cy="55.5" r="2.8" fill="#5c5c5c"/>
<circle cx="415.09" cy="55.5" r="5.6" fill="url(#ring)"/>
<circle cx="415.09" cy="55.5" r="2.8" fill="#5c5c5c"/>
<circle cx="431.99" cy="55.5" r="5.6" fill="url(#ring)"/>
<circle cx="431.99" cy="55.5" r="2.8" fill="#5c5c5c"/>
<circle cx="448.88" cy="55.5" r="5.6" fill="url(#ring)"/>
<circle cx="448.88" cy="55.5" r="2.8" fill="#5c5c5c"/>
<circle cx="482.68" cy="55.5" r="5.6" fill="url(#ring)"/>
<circle cx="482.68" cy="55.5" r="2.8" fill="#5c5c5c"/>
<circle cx="499.57" cy="55.5" r="5.6" fill="url(#ring)"/>
<circle cx="499.57" cy="55.5" r="2.8" fill="#5c5c5c"/>
<circle cx="516.47" cy="55.5" r="5.6" fill="url(#ring)"/>
<circle cx="516.47" cy="55.5" r="2.8" fill="#5c5c5c"/>
<circle cx="533.37" cy="55.5" r="5.6" fill="url(#ring)"/>
<circle cx="533.37" cy="55.5" r="2.8" fill="#5c5c5c"/>
<circle cx="550.27" cy="55.5" r="5.6" fill="url(#ring)"/>
<circle cx="550.27" cy="55.5" r="2.8" fill="#5c5c5c"/>
<circle cx="77.15" cy="72.4" r="5.6" fill="url(#ring)"/>
<circle cx="77.15" cy="72.4" r="2.8" fill="#5c5c5c"/>
<circle cx="94.05" cy="72.4" r="5.6" fill="url(#ring)"/>
<circle cx="94.05" cy="72.4" r="2.8" fill="#5c5c5c"/>
<circle cx="110.94" cy="72.4" r="5.6" fill="url(#ring)"/>
<circle cx="110.94" cy="72.4" r="2.8" fill="#5c5c5c"/>
<circle cx="127.84" cy="72.4" r="5.6" fill="url(#ring)"/>
<circle cx="127.84" cy="72.4" r="2.8" fill="#5c5c5c"/>
<circle cx="144.74" cy="72.4" r="5.6" fill="url(#ring)"/>
<circle cx="144.74" cy="72.4" r="2.8" fill="#5c5c5c"/>
<circle cx="178.53" cy="72.4" r="5.6" fill="url(#ring)"/>
<circle cx="178.53" cy="72.4" r="2.8" fill="#5c5c5c"/>
<circle cx="195.43" cy="72.4" r="5.6" fill="url(#ring)"/>
<circle cx="195.43" cy="72.4" r="2.8" fill="#5c5c5c"/>
<circle cx="212.33" cy="72.4" r="5.6" fill="url(#ring)"/>
<circle cx="212.33" cy="72.4" r="2.8" fill="#5c5c5c"/>
<circle cx="229.22" cy="72.4" r="5.6" fill="url(#ring)"/>
<circle cx="229.22" cy="72.4" r="2.8" fill="#5c5c5c"/>
<circle cx="246.12" cy="72.4" r="5.6" fill="url(#ring)"/>
<circle cx="246.12" cy="72.4" r="2.8" fill="#5c5c5c"/>
<circle cx="279.91" cy="72.4" r="5.6" fill="url(#ring)"/>
<circle cx="279.91" cy="72.4" r="2.8" fill="#5c5c5c"/>
<circle cx="296.81" cy="72.4" r="5.6" fill="url(#ring)"/>
<circle cx="296.81" cy="72.4" r="2.8" fill="#5c5c5c"/>
<circle cx="313.71" cy="72.4" r="5.6" fill="url(#ring)"/>
<circle cx="313.71" cy="72.4" r="2.8" fill="#5c5c5c"/>
<circle cx="330.6" cy="72.4" r="5.6" fill="url(#ring)"/>
<circle cx="330.6" cy="72.4" r="2.8" fill="#5c5c5c"/>
<circle cx="347.5" cy="72.4" r="5.6" fill="url(#ring)"/>
<circle cx="347.5" cy="72.4" r="2.8" fill="#5c5c5c"/>
<circle cx="381.3" cy="72.4" r="5.6" fill="url(#ring)"/>
<circle cx="381.3" cy="72.4" r="2.8" fill="#5c5c5c"/>
<circle cx="398.19" cy="72.4" r="5.6" fill="url(#ring)"/>
<circle cx="398.19" cy="72.4" r="2.8" fill="#5c5c5c"/>
<circle cx="415.09" cy="72.4" r="5.6" fill="url(#ring)"/>
<circle cx="415.09" cy="72.4" r="2.8" fill="#5c5c5c"/>
<circle cx="431.99" cy="72.4" r="5.6" fill="url(#ring)"/>
<circle cx="431.99" cy="72.4" r="2.8" fill="#5c5c5c"/>
<circle cx="448.88" cy="72.4" r="5.6" fill="url(#ring)"/>
<circle cx="448.88" cy="72.4" r="2.8" fill="#5c5c5c"/>
<circle cx="482.68" cy="72.4" r="5.6" fill="url(#ring)"/>
<circle cx="482.68" cy="72.4" r="2.8" fill="#5c5c5c"/>
<circle cx="499.57" cy="72.4" r="5.6" fill="url(#ring)"/>
<circle cx="499.57" cy="72.4" r="2.8" fill="#5c5c5c"/>
<circle cx="516.47" cy="72.4" r="5.6" fill="url(#ring)"/>
<circle cx="516.47" cy="72.4" r="2.8" fill="#5c5c5c"/>
<circle cx="533.37" cy="72.4" r="5.6" fill="url(#ring)"/>
<circle cx="533.37" cy="72.4" r="2.8" fill="#5c5c5c"/>
<circle cx="550.27" cy="72.4" r="5.6" fill="url(#ring)"/>
<circle cx="550.27" cy="72.4" r="2.8" fill="#5c5c5c"/>
<circle cx="77.15" cy="360" r="5.6" fill="url(#ring)"/>
<circle cx="77.15" cy="360" r="2.8" fill="#353535"/>
<circle cx="94.05" cy="360" r="5.6" fill="url(#ring)"/>
<circle cx="94.05" cy="360" r="2.8" fill="#353535"/>
<circle cx="110.94" cy="360" r="5.6" fill="url(#ring)"/>
<circle cx="110.94" cy="360" r="2.8" fill="#353535"/>
<circle cx="127.84" cy="360" r="5.6" fill="url(#ring)"/>
<circle cx="127.84" cy="360" r="2.8" fill="#353535"/>
<circle cx="144.74" cy="360" r="5.6" fill="url(#ring)"/>
<circle cx="144.74" cy="360" r="2.8" fill="#353535"/>
<circle cx="178.53" cy="360" r="5.6" fill="url(#ring)"/>
<circle cx="178.53" cy="360" r="2.8" fill="#353535"/>
<circle cx="195.43" cy="360" r="5.6" fill="url(#ring)"/>
<circle cx="195.43" cy="360" r="2.8" fill="#353535"/>
<circle cx="212.33" cy="360" r="5.6" fill="url(#ring)"/>
<circle cx="212.33" cy="360" r="2.8" fill="#353535"/>
<circle cx="229.22" cy="360" r="5.6" fill="url(#ring)"/>
<circle cx="229.22" cy="360" r="2.8" fill="#353535"/>
<circle cx="246.12" cy="360" r="5.6" fill="url(#ring)"/>
<circle cx="246.12" cy="360" r="2.8" fill="#353535"/>
<circle cx="279.91" cy="360" r="5.6" fill="url(#ring)"/>
<circle cx="279.91" cy="360" r="2.8" fill="#353535"/>
<circle cx="296.81" cy="360" r="5.6" fill="url(#ring)"/>
<circle cx="296.81" cy="360" r="2.8" fill="#353535"/>
<circle cx="313.71" cy="360" r="5.6" fill="url(#ring)"/>
<circle cx="313.71" cy="360" r="2.8" fill="#353535"/>
<circle cx="330.6" cy="360" r="5.6" fill="url(#ring)"/>
<circle cx="330.6" cy="360" r="2.8" fill="#353535"/>
<circle cx="347.5" cy="360" r="5.6" fill="url(#ring)"/>
<circle cx="347.5" cy="360" r="2.8" fill="#353535"/>
<circle cx="381.3" cy="360" r="5.6" fill="url(#ring)"/>
<circle cx="381.3" cy="360" r="2.8" fill="#353535"/>
<circle cx="398.19" cy="360" r="5.6" fill="url(#ring)"/>
<circle cx="398.19" cy="360" r="2.8" fill="#353535"/>
<circle cx="415.09" cy="360" r="5.6" fill="url(#ring)"/>
<circle cx="415.09" cy="360" r="2.8" fill="#353535"/>
<circle cx="431.99" cy="360" r="5.6" fill="url(#ring)"/>
<circle cx="431.99" cy="360" r="2.8" fill="#353535"/>
<circle cx="448.88" cy="360" r="5.6" fill="url(#ring)"/>
<circle cx="448.88" cy="360" r="2.8" fill="#353535"/>
<circle cx="482.68" cy="360" r="5.6" fill="url(#ring)"/>
<circle cx="482.68" cy="360" r="2.8" fill="#353535"/>
<circle cx="499.57" cy="360" r="5.6" fill="url(#ring)"/>
<circle cx="499.57" cy="360" r="2.8" fill="#353535"/>
<circle cx="516.47" cy="360" r="5.6" fill="url(#ring)"/>
<circle cx="516.47" cy="360" r="2.8" fill="#353535"/>
<circle cx="533.37" cy="360" r="5.6" fill="url(#ring)"/>
<circle cx="533.37" cy="360" r="2.8" fill="#353535"/>
<circle cx="550.27" cy="360" r="5.6" fill="url(#ring)"/>
<circle cx="550.27" cy="360" r="2.8" fill="#353535"/>
<circle cx="77.15" cy="376.8" r="5.6" fill="url(#ring)"/>
<circle cx="77.15" cy="376.8" r="2.8" fill="#353535"/>
<circle cx="94.05" cy="376.8" r="5.6" fill="url(#ring)"/>
<circle cx="94.05" cy="376.8" r="2.8" fill="#353535"/>
<circle cx="110.94" cy="376.8" r="5.6" fill="url(#ring)"/>
<circle cx="110.94" cy="376.8" r="2.8" fill="#353535"/>
<circle cx="127.84" cy="376.8" r="5.6" fill="url(#ring)"/>
<circle cx="127.84" cy="376.8" r="2.8" fill="#353535"/>
<circle cx="144.74" cy="376.8" r="5.6" fill="url(#ring)"/>
<circle cx="144.74" cy="376.8" r="2.8" fill="#353535"/>
<circle cx="178.53" cy="376.8" r="5.6" fill="url(#ring)"/>
<circle cx="178.53" cy="376.8" r="2.8" fill="#353535"/>
<circle cx="195.43" cy="376.8" r="5.6" fill="url(#ring)"/>
<circle cx="195.43" cy="376.8" r="2.8" fill="#353535"/>
<circle cx="212.33" cy="376.8" r="5.6" fill="url(#ring)"/>
<circle cx="212.33" cy="376.8" r="2.8" fill="#353535"/>
<circle cx="229.22" cy="376.8" r="5.6" fill="url(#ring)"/>
<circle cx="229.22" cy="376.8" r="2.8" fill="#353535"/>
<circle cx="246.12" cy="376.8" r="5.6" fill="url(#ring)"/>
<circle cx="246.12" cy="376.8" r="2.8" fill="#353535"/>
<circle cx="279.91" cy="376.8" r="5.6" fill="url(#ring)"/>
<circle cx="279.91" cy="376.8" r="2.8" fill="#353535"/>
<circle cx="296.81" cy="376.8" r="5.6" fill="url(#ring)"/>
<circle cx="296.81" cy="376.8" r="2.8" fill="#353535"/>
<circle cx="313.71" cy="376.8" r="5.6" fill="url(#ring)"/>
<circle cx="313.71" cy="376.8" r="2.8" fill="#353535"/>
<circle cx="330.6" cy="376.8" r="5.6" fill="url(#ring)"/>
<circle cx="330.6" cy="376.8" r="2.8" fill="#353535"/>
<circle cx="347.5" cy="376.8" r="5.6" fill="url(#ring)"/>
<circle cx="347.5" cy="376.8" r="2.8" fill="#353535"/>
<circle cx="381.3" cy="376.8" r="5.6" fill="url(#ring)"/>
<circle cx="381.3" cy="376.8" r="2.8" fill="#353535"/>
<circle cx="398.19" cy="376.8" r="5.6" fill="url(#ring)"/>
<circle cx="398.19" cy="376.8" r="2.8" fill="#353535"/>
<circle cx="415.09" cy="376.8" r="5.6" fill="url(#ring)"/>
<circle cx="415.09" cy="376.8" r="2.8" fill="#353535"/>
<circle cx="431.99" cy="376.8" r="5.6" fill="url(#ring)"/>
<circle cx="431.99" cy="376.8" r="2.8" fill="#353535"/>
<circle cx="448.88" cy="376.8" r="5.6" fill="url(#ring)"/>
<circle cx="448.88" cy="376.8" r="2.8" fill="#353535"/>
<circle cx="482.68" cy="376.8" r="5.6" fill="url(#ring)"/>
<circle cx="482.68" cy="376.8" r="2.8" fill="#353535"/>
<circle cx="499.57" cy="376.8" r="5.6" fill="url(#ring)"/>
<circle cx="499.57" cy="376.8" r="2.8" fill="#353535"/>
<circle cx="516.47" cy="376.8" r="5.6" fill="url(#ring)"/>
<circle cx="516.47" cy="376.8" r="2.8" fill="#353535"/>
<circle cx="533.37" cy="376.8" r="5.6" fill="url(#ring)"/>
<circle cx="533.37" cy="376.8" r="2.8" fill="#353535"/>
<circle cx="550.27" cy="376.8" r="5.6" fill="url(#ring)"/>
<circle cx="550.27" cy="376.8" r="2.8" fill="#353535"/>
<text x="0" y="0" transform="translate(55.3 123.2) rotate(-90)" font-size="10.5" fill="#b2b2b2" text-anchor="middle" dominant-baseline="central" font-family="Liberation Sans">J</text>
<text x="0" y="0" transform="translate(579 123.2) rotate(-90)" font-size="10.5" fill="#b2b2b2" text-anchor="middle" dominant-baseline="central" font-family="Liberation Sans">J</text>
<text x="0" y="0" transform="translate(55.3 140.1) rotate(-90)" font-size="10.5" fill="#b2b2b2" text-anchor="middle" dominant-baseline="central" font-family="Liberation Sans">I</text>
<text x="0" y="0" transform="translate(579 140.1) rotate(-90)" font-size="10.5" fill="#b2b2b2" text-anchor="middle" dominant-baseline="central" font-family="Liberation Sans">I</text>
<text x="0" y="0" transform="translate(55.3 157) rotate(-90)" font-size="10.5" fill="#b2b2b2" text-anchor="middle" dominant-baseline="central" font-family="Liberation Sans">H</text>
<text x="0" y="0" transform="translate(579 157) rotate(-90)" font-size="10.5" fill="#b2b2b2" text-anchor="middle" dominant-baseline="central" font-family="Liberation Sans">H</text>
<text x="0" y="0" transform="translate(55.3 173.9) rotate(-90)" font-size="10.5" fill="#b2b2b2" text-anchor="middle" dominant-baseline="central" font-family="Liberation Sans">G</text>
<text x="0" y="0" transform="translate(579 173.9) rotate(-90)" font-size="10.5" fill="#b2b2b2" text-anchor="middle" dominant-baseline="central" font-family="Liberation Sans">G</text>
<text x="0" y="0" transform="translate(55.3 190.8) rotate(-90)" font-size="10.5" fill="#b2b2b2" text-anchor="middle" dominant-baseline="central" font-family="Liberation Sans">F</text>
<text x="0" y="0" transform="translate(579 190.8) rotate(-90)" font-size="10.5" fill="#b2b2b2" text-anchor="middle" dominant-baseline="central" font-family="Liberation Sans">F</text>
<text x="0" y="0" transform="translate(55.3 241.5) rotate(-90)" font-size="10.5" fill="#b2b2b2" text-anchor="middle" dominant-baseline="central" font-family="Liberation Sans">E</text>
<text x="0" y="0" transform="translate(579 241.5) rotate(-90)" font-size="10.5" fill="#b2b2b2" text-anchor="middle" dominant-baseline="central" font-family="Liberation Sans">E</text>
<text x="0" y="0" transform="translate(55.3 258.4) rotate(-90)" font-size="10.5" fill="#b2b2b2" text-anchor="middle" dominant-baseline="central" font-family="Liberation Sans">D</text>
<text x="0" y="0" transform="translate(579 258.4) rotate(-90)" font-size="10.5" fill="#b2b2b2" text-anchor="middle" dominant-baseline="central" font-family="Liberation Sans">D</text>
<text x="0" y="0" transform="translate(55.3 275.3) rotate(-90)" font-size="10.5" fill="#b2b2b2" text-anchor="middle" dominant-baseline="central" font-family="Liberation Sans">C</text>
<text x="0" y="0" transform="translate(579 275.3) rotate(-90)" font-size="10.5" fill="#b2b2b2" text-anchor="middle" dominant-baseline="central" font-family="Liberation Sans">C</text>
<text x="0" y="0" transform="translate(55.3 292.2) rotate(-90)" font-size="10.5" fill="#b2b2b2" text-anchor="middle" dominant-baseline="central" font-family="Liberation Sans">B</text>
<text x="0" y="0" transform="translate(579 292.2) rotate(-90)" font-size="10.5" fill="#b2b2b2" text-anchor="middle" dominant-baseline="central" font-family="Liberation Sans">B</text>
<text x="0" y="0" transform="translate(55.3 309.1) rotate(-90)" font-size="10.5" fill="#b2b2b2" text-anchor="middle" dominant-baseline="central" font-family="Liberation Sans">A</text>
<text x="0" y="0" transform="translate(579 309.1) rotate(-90)" font-size="10.5" fill="#b2b2b2" text-anchor="middle" dominant-baseline="central" font-family="Liberation Sans">A</text>
<text x="0" y="0" transform="translate(71.5 110.2) rotate(-90)" font-size="10.5" fill="#b2b2b2" text-anchor="start" dominant-baseline="central" font-family="Liberation Sans">1</text>
<text x="0" y="0" transform="translate(71.5 335) rotate(-90)" font-size="10.5" fill="#b2b2b2" text-anchor="start" dominant-baseline="central" font-family="Liberation Sans">1</text>
<text x="0" y="0" transform="translate(139.09 110.2) rotate(-90)" font-size="10.5" fill="#b2b2b2" text-anchor="start" dominant-baseline="central" font-family="Liberation Sans">5</text>
<text x="0" y="0" transform="translate(139.09 335) rotate(-90)" font-size="10.5" fill="#b2b2b2" text-anchor="start" dominant-baseline="central" font-family="Liberation Sans">5</text>
<text x="0" y="0" transform="translate(223.57 110.2) rotate(-90)" font-size="10.5" fill="#b2b2b2" text-anchor="start" dominant-baseline="central" font-family="Liberation Sans">10</text>
<text x="0" y="0" transform="translate(223.57 335) rotate(-90)" font-size="10.5" fill="#b2b2b2" text-anchor="start" dominant-baseline="central" font-family="Liberation Sans">10</text>
<text x="0" y="0" transform="translate(308.06 110.2) rotate(-90)" font-size="10.5" fill="#b2b2b2" text-anchor="start" dominant-baseline="central" font-family="Liberation Sans">15</text>
<text x="0" y="0" transform="translate(308.06 335) rotate(-90)" font-size="10.5" fill="#b2b2b2" text-anchor="start" dominant-baseline="central" font-family="Liberation Sans">15</text>
<text x="0" y="0" transform="translate(392.54 110.2) rotate(-90)" font-size="10.5" fill="#b2b2b2" text-anchor="start" dominant-baseline="central" font-family="Liberation Sans">20</text>
<text x="0" y="0" transform="translate(392.54 335) rotate(-90)" font-size="10.5" fill="#b2b2b2" text-anchor="start" dominant-baseline="central" font-family="Liberation Sans">20</text>
<text x="0" y="0" transform="translate(477.03 110.2) rotate(-90)" font-size="10.5" fill="#b2b2b2" text-anchor="start" dominant-baseline="central" font-family="Liberation Sans">25</text>
<text x="0" y="0" transform="translate(477.03 335) rotate(-90)" font-size="10.5" fill="#b2b2b2" text-anchor="start" dominant-baseline="central" font-family="Liberation Sans">25</text>
<text x="0" y="0" transform="translate(561.51 110.2) rotate(-90)" font-size="10.5" fill="#b2b2b2" text-anchor="start" dominant-baseline="central" font-family="Liberation Sans">30</text>
<text x="0" y="0" transform="translate(561.51 335) rotate(-90)" font-size="10.5" fill="#b2b2b2" text-anchor="start" dominant-baseline="central" font-family="Liberation Sans">30</text>
</g>
<line x1="137.6" y1="157" x2="207.4" y2="157" stroke="#929292" stroke-width="4" stroke-linecap="round"/>
<circle cx="138.49" cy="157" r="2.9" fill="#959595"/>
<circle cx="206.08" cy="157" r="2.9" fill="#959595"/>
<path d="M152.4,149.1 H160 Q162,149.1 163,150.6 H180 Q181,149.1 183,149.1 H191.4 Q193.4,149.1 193.4,151.1 V162.6 Q193.4,164.6 191.4,164.6 H183 Q181,164.6 180,163.1 H163 Q162,164.6 160,164.6 H152.4 Q150.4,164.6 150.4,162.6 V151.1 Q150.4,149.1 152.4,149.1 Z" fill="url(#res)"/>
<rect x="156.4" y="149.3" width="4.5" height="15.2" fill="#8a3a10" opacity="0.95"/>
<rect x="165" y="150.9" width="4.7" height="12.2" fill="#111"/>
<rect x="173.8" y="150.9" width="4.5" height="12.2" fill="#d01010"/>
<rect x="187.6" y="149.5" width="1.6" height="15" fill="#c8b838"/>
<rect x="150.4" y="158.5" width="43" height="6" fill="#6a4a20" opacity="0.18"/>
<rect x="102.1" y="187.9" width="5" height="12" rx="2.5" fill="#a3a3a3"/>
<rect x="102" y="235" width="5.2" height="9.8" rx="0.8" fill="#a0a0a0"/>
<rect x="135.9" y="187.9" width="5" height="12" rx="2.5" fill="#a3a3a3"/>
<rect x="135.8" y="235" width="5.2" height="9.8" rx="0.8" fill="#a0a0a0"/>
<rect x="100.9" y="196.4" width="41.9" height="41.3" fill="#9c9c9c" stroke="#6a6a6a" stroke-width="0.3"/>
<circle cx="101.3" cy="196.8" r="0.9" fill="#222"/>
<circle cx="142.4" cy="196.8" r="0.9" fill="#222"/>
<circle cx="101.3" cy="237.3" r="0.9" fill="#222"/>
<circle cx="142.4" cy="237.3" r="0.9" fill="#222"/>
<circle cx="107.1" cy="202.4" r="3.7" fill="#080808"/>
<circle cx="105.8" cy="201.1" r="0.9" fill="#d0d0d0" opacity="0.9"/>
<circle cx="136.5" cy="202.4" r="3.7" fill="#080808"/>
<circle cx="135.2" cy="201.1" r="0.9" fill="#d0d0d0" opacity="0.9"/>
<circle cx="107.1" cy="231.9" r="3.7" fill="#080808"/>
<circle cx="105.8" cy="230.6" r="0.9" fill="#d0d0d0" opacity="0.9"/>
<circle cx="136.5" cy="231.9" r="3.7" fill="#080808"/>
<circle cx="135.2" cy="230.6" r="0.9" fill="#d0d0d0" opacity="0.9"/>
<circle cx="121.7" cy="217" r="12.0" fill="#363636"/>
<circle cx="121.7" cy="217" r="10.5" fill="#7a5546"/>
<path d="M112.5,213 A10,10 0 0 1 130.9,213" fill="none" stroke="#9a7565" stroke-width="0.8" opacity="0.7"/>
<rect x="282.2" y="131.5" width="320.9" height="168.9" rx="9.3" fill="#1e2b5c"/>
<rect x="573.7" y="190.9" width="39.3" height="50.6" fill="#c1c2c4"/>
<g clip-path="url(#mh)"><rect x="280" y="130" width="330" height="175" fill="#fff"/><rect x="45.3" y="38.8" width="548.9" height="355.1" fill="#d9d9d9"/>
<rect x="45.3" y="205.9" width="548.9" height="16.9" fill="#cecbc9"/>
<line x1="45.3" y1="45.0" x2="572.3" y2="45.0" stroke="#6464ea" stroke-width="1.8"/>
<line x1="45.3" y1="84.4" x2="572.8" y2="84.4" stroke="#f03c3c" stroke-width="1.4"/>
<line x1="45.3" y1="88.4" x2="581.7" y2="88.4" stroke="#bcbcbc" stroke-width="1.2"/>
<line x1="45.3" y1="343.45" x2="586.2" y2="343.45" stroke="#bcbcbc" stroke-width="1.2"/>
<line x1="45.3" y1="349.05" x2="575.8" y2="349.05" stroke="#5656ec" stroke-width="1.8"/>
<line x1="45.3" y1="388.5" x2="574.2" y2="388.5" stroke="#f03c3c" stroke-width="1.4"/>
<circle cx="70.9" cy="123.2" r="5.6" fill="url(#ring)"/>
<circle cx="70.9" cy="123.2" r="2.8" fill="#353535"/>
<circle cx="87.8" cy="123.2" r="5.6" fill="url(#ring)"/>
<circle cx="87.8" cy="123.2" r="2.8" fill="#353535"/>
<circle cx="104.69" cy="123.2" r="5.6" fill="url(#ring)"/>
<circle cx="104.69" cy="123.2" r="2.8" fill="#5c5c5c"/>
<circle cx="121.59" cy="123.2" r="5.6" fill="url(#ring)"/>
<circle cx="121.59" cy="123.2" r="2.8" fill="#353535"/>
<circle cx="138.49" cy="123.2" r="5.6" fill="url(#ring)"/>
<circle cx="138.49" cy="123.2" r="2.8" fill="#5c5c5c"/>
<circle cx="155.38" cy="123.2" r="5.6" fill="url(#ring)"/>
<circle cx="155.38" cy="123.2" r="2.8" fill="#353535"/>
<circle cx="172.28" cy="123.2" r="5.6" fill="url(#ring)"/>
<circle cx="172.28" cy="123.2" r="2.8" fill="#353535"/>
<circle cx="189.18" cy="123.2" r="5.6" fill="url(#ring)"/>
<circle cx="189.18" cy="123.2" r="2.8" fill="#353535"/>
<circle cx="206.08" cy="123.2" r="5.6" fill="url(#ring)"/>
<circle cx="206.08" cy="123.2" r="2.8" fill="#5c5c5c"/>
<circle cx="222.97" cy="123.2" r="5.6" fill="url(#ring)"/>
<circle cx="222.97" cy="123.2" r="2.8" fill="#353535"/>
<circle cx="239.87" cy="123.2" r="5.6" fill="url(#ring)"/>
<circle cx="239.87" cy="123.2" r="2.8" fill="#353535"/>
<circle cx="256.77" cy="123.2" r="5.6" fill="url(#ring)"/>
<circle cx="256.77" cy="123.2" r="2.8" fill="#353535"/>
<circle cx="273.66" cy="123.2" r="5.6" fill="url(#ring)"/>
<circle cx="273.66" cy="123.2" r="2.8" fill="#353535"/>
<circle cx="290.56" cy="123.2" r="5.6" fill="url(#ring)"/>
<circle cx="290.56" cy="123.2" r="2.8" fill="#353535"/>
<circle cx="307.46" cy="123.2" r="5.6" fill="url(#ring)"/>
<circle cx="307.46" cy="123.2" r="2.8" fill="#353535"/>
<circle cx="324.36" cy="123.2" r="5.6" fill="url(#ring)"/>
<circle cx="324.36" cy="123.2" r="2.8" fill="#5c5c5c"/>
<circle cx="341.25" cy="123.2" r="5.6" fill="url(#ring)"/>
<circle cx="341.25" cy="123.2" r="2.8" fill="#5c5c5c"/>
<circle cx="358.15" cy="123.2" r="5.6" fill="url(#ring)"/>
<circle cx="358.15" cy="123.2" r="2.8" fill="#5c5c5c"/>
<circle cx="375.05" cy="123.2" r="5.6" fill="url(#ring)"/>
<circle cx="375.05" cy="123.2" r="2.8" fill="#5c5c5c"/>
<circle cx="391.94" cy="123.2" r="5.6" fill="url(#ring)"/>
<circle cx="391.94" cy="123.2" r="2.8" fill="#5c5c5c"/>
<circle cx="408.84" cy="123.2" r="5.6" fill="url(#ring)"/>
<circle cx="408.84" cy="123.2" r="2.8" fill="#5c5c5c"/>
<circle cx="425.74" cy="123.2" r="5.6" fill="url(#ring)"/>
<circle cx="425.74" cy="123.2" r="2.8" fill="#5c5c5c"/>
<circle cx="442.63" cy="123.2" r="5.6" fill="url(#ring)"/>
<circle cx="442.63" cy="123.2" r="2.8" fill="#5c5c5c"/>
<circle cx="459.53" cy="123.2" r="5.6" fill="url(#ring)"/>
<circle cx="459.53" cy="123.2" r="2.8" fill="#5c5c5c"/>
<circle cx="476.43" cy="123.2" r="5.6" fill="url(#ring)"/>
<circle cx="476.43" cy="123.2" r="2.8" fill="#5c5c5c"/>
<circle cx="493.32" cy="123.2" r="5.6" fill="url(#ring)"/>
<circle cx="493.32" cy="123.2" r="2.8" fill="#5c5c5c"/>
<circle cx="510.22" cy="123.2" r="5.6" fill="url(#ring)"/>
<circle cx="510.22" cy="123.2" r="2.8" fill="#5c5c5c"/>
<circle cx="527.12" cy="123.2" r="5.6" fill="url(#ring)"/>
<circle cx="527.12" cy="123.2" r="2.8" fill="#5c5c5c"/>
<circle cx="544.02" cy="123.2" r="5.6" fill="url(#ring)"/>
<circle cx="544.02" cy="123.2" r="2.8" fill="#5c5c5c"/>
<circle cx="560.91" cy="123.2" r="5.6" fill="url(#ring)"/>
<circle cx="560.91" cy="123.2" r="2.8" fill="#5c5c5c"/>
<circle cx="70.9" cy="140.1" r="5.6" fill="url(#ring)"/>
<circle cx="70.9" cy="140.1" r="2.8" fill="#353535"/>
<circle cx="87.8" cy="140.1" r="5.6" fill="url(#ring)"/>
<circle cx="87.8" cy="140.1" r="2.8" fill="#353535"/>
<circle cx="104.69" cy="140.1" r="5.6" fill="url(#ring)"/>
<circle cx="104.69" cy="140.1" r="2.8" fill="#5c5c5c"/>
<circle cx="121.59" cy="140.1" r="5.6" fill="url(#ring)"/>
<circle cx="121.59" cy="140.1" r="2.8" fill="#353535"/>
<circle cx="138.49" cy="140.1" r="5.6" fill="url(#ring)"/>
<circle cx="138.49" cy="140.1" r="2.8" fill="#5c5c5c"/>
<circle cx="155.38" cy="140.1" r="5.6" fill="url(#ring)"/>
<circle cx="155.38" cy="140.1" r="2.8" fill="#353535"/>
<circle cx="172.28" cy="140.1" r="5.6" fill="url(#ring)"/>
<circle cx="172.28" cy="140.1" r="2.8" fill="#353535"/>
<circle cx="189.18" cy="140.1" r="5.6" fill="url(#ring)"/>
<circle cx="189.18" cy="140.1" r="2.8" fill="#353535"/>
<circle cx="206.08" cy="140.1" r="5.6" fill="url(#ring)"/>
<circle cx="206.08" cy="140.1" r="2.8" fill="#5c5c5c"/>
<circle cx="222.97" cy="140.1" r="5.6" fill="url(#ring)"/>
<circle cx="222.97" cy="140.1" r="2.8" fill="#353535"/>
<circle cx="239.87" cy="140.1" r="5.6" fill="url(#ring)"/>
<circle cx="239.87" cy="140.1" r="2.8" fill="#353535"/>
<circle cx="256.77" cy="140.1" r="5.6" fill="url(#ring)"/>
<circle cx="256.77" cy="140.1" r="2.8" fill="#353535"/>
<circle cx="273.66" cy="140.1" r="5.6" fill="url(#ring)"/>
<circle cx="273.66" cy="140.1" r="2.8" fill="#353535"/>
<circle cx="290.56" cy="140.1" r="5.6" fill="url(#ring)"/>
<circle cx="290.56" cy="140.1" r="2.8" fill="#353535"/>
<circle cx="307.46" cy="140.1" r="5.6" fill="url(#ring)"/>
<circle cx="307.46" cy="140.1" r="2.8" fill="#353535"/>
<circle cx="324.36" cy="140.1" r="5.6" fill="url(#ring)"/>
<circle cx="324.36" cy="140.1" r="2.8" fill="#5c5c5c"/>
<circle cx="341.25" cy="140.1" r="5.6" fill="url(#ring)"/>
<circle cx="341.25" cy="140.1" r="2.8" fill="#5c5c5c"/>
<circle cx="358.15" cy="140.1" r="5.6" fill="url(#ring)"/>
<circle cx="358.15" cy="140.1" r="2.8" fill="#5c5c5c"/>
<circle cx="375.05" cy="140.1" r="5.6" fill="url(#ring)"/>
<circle cx="375.05" cy="140.1" r="2.8" fill="#5c5c5c"/>
<circle cx="391.94" cy="140.1" r="5.6" fill="url(#ring)"/>
<circle cx="391.94" cy="140.1" r="2.8" fill="#5c5c5c"/>
<circle cx="408.84" cy="140.1" r="5.6" fill="url(#ring)"/>
<circle cx="408.84" cy="140.1" r="2.8" fill="#5c5c5c"/>
<circle cx="425.74" cy="140.1" r="5.6" fill="url(#ring)"/>
<circle cx="425.74" cy="140.1" r="2.8" fill="#5c5c5c"/>
<circle cx="442.63" cy="140.1" r="5.6" fill="url(#ring)"/>
<circle cx="442.63" cy="140.1" r="2.8" fill="#5c5c5c"/>
<circle cx="459.53" cy="140.1" r="5.6" fill="url(#ring)"/>
<circle cx="459.53" cy="140.1" r="2.8" fill="#5c5c5c"/>
<circle cx="476.43" cy="140.1" r="5.6" fill="url(#ring)"/>
<circle cx="476.43" cy="140.1" r="2.8" fill="#5c5c5c"/>
<circle cx="493.32" cy="140.1" r="5.6" fill="url(#ring)"/>
<circle cx="493.32" cy="140.1" r="2.8" fill="#5c5c5c"/>
<circle cx="510.22" cy="140.1" r="5.6" fill="url(#ring)"/>
<circle cx="510.22" cy="140.1" r="2.8" fill="#5c5c5c"/>
<circle cx="527.12" cy="140.1" r="5.6" fill="url(#ring)"/>
<circle cx="527.12" cy="140.1" r="2.8" fill="#5c5c5c"/>
<circle cx="544.02" cy="140.1" r="5.6" fill="url(#ring)"/>
<circle cx="544.02" cy="140.1" r="2.8" fill="#5c5c5c"/>
<circle cx="560.91" cy="140.1" r="5.6" fill="url(#ring)"/>
<circle cx="560.91" cy="140.1" r="2.8" fill="#5c5c5c"/>
<circle cx="70.9" cy="157" r="5.6" fill="url(#ring)"/>
<circle cx="70.9" cy="157" r="2.8" fill="#353535"/>
<circle cx="87.8" cy="157" r="5.6" fill="url(#ring)"/>
<circle cx="87.8" cy="157" r="2.8" fill="#353535"/>
<circle cx="104.69" cy="157" r="5.6" fill="url(#ring)"/>
<circle cx="104.69" cy="157" r="2.8" fill="#5c5c5c"/>
<circle cx="121.59" cy="157" r="5.6" fill="url(#ring)"/>
<circle cx="121.59" cy="157" r="2.8" fill="#353535"/>
<circle cx="138.49" cy="157" r="5.6" fill="url(#ring)"/>
<circle cx="138.49" cy="157" r="2.8" fill="#5c5c5c"/>
<circle cx="155.38" cy="157" r="5.6" fill="url(#ring)"/>
<circle cx="155.38" cy="157" r="2.8" fill="#353535"/>
<circle cx="172.28" cy="157" r="5.6" fill="url(#ring)"/>
<circle cx="172.28" cy="157" r="2.8" fill="#353535"/>
<circle cx="189.18" cy="157" r="5.6" fill="url(#ring)"/>
<circle cx="189.18" cy="157" r="2.8" fill="#353535"/>
<circle cx="206.08" cy="157" r="5.6" fill="url(#ring)"/>
<circle cx="206.08" cy="157" r="2.8" fill="#5c5c5c"/>
<circle cx="222.97" cy="157" r="5.6" fill="url(#ring)"/>
<circle cx="222.97" cy="157" r="2.8" fill="#353535"/>
<circle cx="239.87" cy="157" r="5.6" fill="url(#ring)"/>
<circle cx="239.87" cy="157" r="2.8" fill="#353535"/>
<circle cx="256.77" cy="157" r="5.6" fill="url(#ring)"/>
<circle cx="256.77" cy="157" r="2.8" fill="#353535"/>
<circle cx="273.66" cy="157" r="5.6" fill="url(#ring)"/>
<circle cx="273.66" cy="157" r="2.8" fill="#353535"/>
<circle cx="290.56" cy="157" r="5.6" fill="url(#ring)"/>
<circle cx="290.56" cy="157" r="2.8" fill="#353535"/>
<circle cx="307.46" cy="157" r="5.6" fill="url(#ring)"/>
<circle cx="307.46" cy="157" r="2.8" fill="#353535"/>
<circle cx="324.36" cy="157" r="5.6" fill="url(#ring)"/>
<circle cx="324.36" cy="157" r="2.8" fill="#5c5c5c"/>
<circle cx="341.25" cy="157" r="5.6" fill="url(#ring)"/>
<circle cx="341.25" cy="157" r="2.8" fill="#5c5c5c"/>
<circle cx="358.15" cy="157" r="5.6" fill="url(#ring)"/>
<circle cx="358.15" cy="157" r="2.8" fill="#5c5c5c"/>
<circle cx="375.05" cy="157" r="5.6" fill="url(#ring)"/>
<circle cx="375.05" cy="157" r="2.8" fill="#5c5c5c"/>
<circle cx="391.94" cy="157" r="5.6" fill="url(#ring)"/>
<circle cx="391.94" cy="157" r="2.8" fill="#5c5c5c"/>
<circle cx="408.84" cy="157" r="5.6" fill="url(#ring)"/>
<circle cx="408.84" cy="157" r="2.8" fill="#5c5c5c"/>
<circle cx="425.74" cy="157" r="5.6" fill="url(#ring)"/>
<circle cx="425.74" cy="157" r="2.8" fill="#5c5c5c"/>
<circle cx="442.63" cy="157" r="5.6" fill="url(#ring)"/>
<circle cx="442.63" cy="157" r="2.8" fill="#5c5c5c"/>
<circle cx="459.53" cy="157" r="5.6" fill="url(#ring)"/>
<circle cx="459.53" cy="157" r="2.8" fill="#5c5c5c"/>
<circle cx="476.43" cy="157" r="5.6" fill="url(#ring)"/>
<circle cx="476.43" cy="157" r="2.8" fill="#5c5c5c"/>
<circle cx="493.32" cy="157" r="5.6" fill="url(#ring)"/>
<circle cx="493.32" cy="157" r="2.8" fill="#5c5c5c"/>
<circle cx="510.22" cy="157" r="5.6" fill="url(#ring)"/>
<circle cx="510.22" cy="157" r="2.8" fill="#5c5c5c"/>
<circle cx="527.12" cy="157" r="5.6" fill="url(#ring)"/>
<circle cx="527.12" cy="157" r="2.8" fill="#5c5c5c"/>
<circle cx="544.02" cy="157" r="5.6" fill="url(#ring)"/>
<circle cx="544.02" cy="157" r="2.8" fill="#5c5c5c"/>
<circle cx="560.91" cy="157" r="5.6" fill="url(#ring)"/>
<circle cx="560.91" cy="157" r="2.8" fill="#5c5c5c"/>
<circle cx="70.9" cy="173.9" r="5.6" fill="url(#ring)"/>
<circle cx="70.9" cy="173.9" r="2.8" fill="#353535"/>
<circle cx="87.8" cy="173.9" r="5.6" fill="url(#ring)"/>
<circle cx="87.8" cy="173.9" r="2.8" fill="#353535"/>
<circle cx="104.69" cy="173.9" r="5.6" fill="url(#ring)"/>
<circle cx="104.69" cy="173.9" r="2.8" fill="#5c5c5c"/>
<circle cx="121.59" cy="173.9" r="5.6" fill="url(#ring)"/>
<circle cx="121.59" cy="173.9" r="2.8" fill="#353535"/>
<circle cx="138.49" cy="173.9" r="5.6" fill="url(#ring)"/>
<circle cx="138.49" cy="173.9" r="2.8" fill="#5c5c5c"/>
<circle cx="155.38" cy="173.9" r="5.6" fill="url(#ring)"/>
<circle cx="155.38" cy="173.9" r="2.8" fill="#353535"/>
<circle cx="172.28" cy="173.9" r="5.6" fill="url(#ring)"/>
<circle cx="172.28" cy="173.9" r="2.8" fill="#353535"/>
<circle cx="189.18" cy="173.9" r="5.6" fill="url(#ring)"/>
<circle cx="189.18" cy="173.9" r="2.8" fill="#353535"/>
<circle cx="206.08" cy="173.9" r="5.6" fill="url(#ring)"/>
<circle cx="206.08" cy="173.9" r="2.8" fill="#5c5c5c"/>
<circle cx="222.97" cy="173.9" r="5.6" fill="url(#ring)"/>
<circle cx="222.97" cy="173.9" r="2.8" fill="#353535"/>
<circle cx="239.87" cy="173.9" r="5.6" fill="url(#ring)"/>
<circle cx="239.87" cy="173.9" r="2.8" fill="#353535"/>
<circle cx="256.77" cy="173.9" r="5.6" fill="url(#ring)"/>
<circle cx="256.77" cy="173.9" r="2.8" fill="#353535"/>
<circle cx="273.66" cy="173.9" r="5.6" fill="url(#ring)"/>
<circle cx="273.66" cy="173.9" r="2.8" fill="#353535"/>
<circle cx="290.56" cy="173.9" r="5.6" fill="url(#ring)"/>
<circle cx="290.56" cy="173.9" r="2.8" fill="#353535"/>
<circle cx="307.46" cy="173.9" r="5.6" fill="url(#ring)"/>
<circle cx="307.46" cy="173.9" r="2.8" fill="#353535"/>
<circle cx="324.36" cy="173.9" r="5.6" fill="url(#ring)"/>
<circle cx="324.36" cy="173.9" r="2.8" fill="#5c5c5c"/>
<circle cx="341.25" cy="173.9" r="5.6" fill="url(#ring)"/>
<circle cx="341.25" cy="173.9" r="2.8" fill="#5c5c5c"/>
<circle cx="358.15" cy="173.9" r="5.6" fill="url(#ring)"/>
<circle cx="358.15" cy="173.9" r="2.8" fill="#5c5c5c"/>
<circle cx="375.05" cy="173.9" r="5.6" fill="url(#ring)"/>
<circle cx="375.05" cy="173.9" r="2.8" fill="#5c5c5c"/>
<circle cx="391.94" cy="173.9" r="5.6" fill="url(#ring)"/>
<circle cx="391.94" cy="173.9" r="2.8" fill="#5c5c5c"/>
<circle cx="408.84" cy="173.9" r="5.6" fill="url(#ring)"/>
<circle cx="408.84" cy="173.9" r="2.8" fill="#5c5c5c"/>
<circle cx="425.74" cy="173.9" r="5.6" fill="url(#ring)"/>
<circle cx="425.74" cy="173.9" r="2.8" fill="#5c5c5c"/>
<circle cx="442.63" cy="173.9" r="5.6" fill="url(#ring)"/>
<circle cx="442.63" cy="173.9" r="2.8" fill="#5c5c5c"/>
<circle cx="459.53" cy="173.9" r="5.6" fill="url(#ring)"/>
<circle cx="459.53" cy="173.9" r="2.8" fill="#5c5c5c"/>
<circle cx="476.43" cy="173.9" r="5.6" fill="url(#ring)"/>
<circle cx="476.43" cy="173.9" r="2.8" fill="#5c5c5c"/>
<circle cx="493.32" cy="173.9" r="5.6" fill="url(#ring)"/>
<circle cx="493.32" cy="173.9" r="2.8" fill="#5c5c5c"/>
<circle cx="510.22" cy="173.9" r="5.6" fill="url(#ring)"/>
<circle cx="510.22" cy="173.9" r="2.8" fill="#5c5c5c"/>
<circle cx="527.12" cy="173.9" r="5.6" fill="url(#ring)"/>
<circle cx="527.12" cy="173.9" r="2.8" fill="#5c5c5c"/>
<circle cx="544.02" cy="173.9" r="5.6" fill="url(#ring)"/>
<circle cx="544.02" cy="173.9" r="2.8" fill="#5c5c5c"/>
<circle cx="560.91" cy="173.9" r="5.6" fill="url(#ring)"/>
<circle cx="560.91" cy="173.9" r="2.8" fill="#5c5c5c"/>
<circle cx="70.9" cy="190.8" r="5.6" fill="url(#ring)"/>
<circle cx="70.9" cy="190.8" r="2.8" fill="#353535"/>
<circle cx="87.8" cy="190.8" r="5.6" fill="url(#ring)"/>
<circle cx="87.8" cy="190.8" r="2.8" fill="#353535"/>
<circle cx="104.69" cy="190.8" r="5.6" fill="url(#ring)"/>
<circle cx="104.69" cy="190.8" r="2.8" fill="#5c5c5c"/>
<circle cx="121.59" cy="190.8" r="5.6" fill="url(#ring)"/>
<circle cx="121.59" cy="190.8" r="2.8" fill="#353535"/>
<circle cx="138.49" cy="190.8" r="5.6" fill="url(#ring)"/>
<circle cx="138.49" cy="190.8" r="2.8" fill="#5c5c5c"/>
<circle cx="155.38" cy="190.8" r="5.6" fill="url(#ring)"/>
<circle cx="155.38" cy="190.8" r="2.8" fill="#353535"/>
<circle cx="172.28" cy="190.8" r="5.6" fill="url(#ring)"/>
<circle cx="172.28" cy="190.8" r="2.8" fill="#353535"/>
<circle cx="189.18" cy="190.8" r="5.6" fill="url(#ring)"/>
<circle cx="189.18" cy="190.8" r="2.8" fill="#353535"/>
<circle cx="206.08" cy="190.8" r="5.6" fill="url(#ring)"/>
<circle cx="206.08" cy="190.8" r="2.8" fill="#5c5c5c"/>
<circle cx="222.97" cy="190.8" r="5.6" fill="url(#ring)"/>
<circle cx="222.97" cy="190.8" r="2.8" fill="#353535"/>
<circle cx="239.87" cy="190.8" r="5.6" fill="url(#ring)"/>
<circle cx="239.87" cy="190.8" r="2.8" fill="#353535"/>
<circle cx="256.77" cy="190.8" r="5.6" fill="url(#ring)"/>
<circle cx="256.77" cy="190.8" r="2.8" fill="#353535"/>
<circle cx="273.66" cy="190.8" r="5.6" fill="url(#ring)"/>
<circle cx="273.66" cy="190.8" r="2.8" fill="#353535"/>
<circle cx="290.56" cy="190.8" r="5.6" fill="url(#ring)"/>
<circle cx="290.56" cy="190.8" r="2.8" fill="#353535"/>
<circle cx="307.46" cy="190.8" r="5.6" fill="url(#ring)"/>
<circle cx="307.46" cy="190.8" r="2.8" fill="#353535"/>
<circle cx="324.36" cy="190.8" r="5.6" fill="url(#ring)"/>
<circle cx="324.36" cy="190.8" r="2.8" fill="#5c5c5c"/>
<circle cx="341.25" cy="190.8" r="5.6" fill="url(#ring)"/>
<circle cx="341.25" cy="190.8" r="2.8" fill="#5c5c5c"/>
<circle cx="358.15" cy="190.8" r="5.6" fill="url(#ring)"/>
<circle cx="358.15" cy="190.8" r="2.8" fill="#5c5c5c"/>
<circle cx="375.05" cy="190.8" r="5.6" fill="url(#ring)"/>
<circle cx="375.05" cy="190.8" r="2.8" fill="#5c5c5c"/>
<circle cx="391.94" cy="190.8" r="5.6" fill="url(#ring)"/>
<circle cx="391.94" cy="190.8" r="2.8" fill="#5c5c5c"/>
<circle cx="408.84" cy="190.8" r="5.6" fill="url(#ring)"/>
<circle cx="408.84" cy="190.8" r="2.8" fill="#5c5c5c"/>
<circle cx="425.74" cy="190.8" r="5.6" fill="url(#ring)"/>
<circle cx="425.74" cy="190.8" r="2.8" fill="#5c5c5c"/>
<circle cx="442.63" cy="190.8" r="5.6" fill="url(#ring)"/>
<circle cx="442.63" cy="190.8" r="2.8" fill="#5c5c5c"/>
<circle cx="459.53" cy="190.8" r="5.6" fill="url(#ring)"/>
<circle cx="459.53" cy="190.8" r="2.8" fill="#5c5c5c"/>
<circle cx="476.43" cy="190.8" r="5.6" fill="url(#ring)"/>
<circle cx="476.43" cy="190.8" r="2.8" fill="#5c5c5c"/>
<circle cx="493.32" cy="190.8" r="5.6" fill="url(#ring)"/>
<circle cx="493.32" cy="190.8" r="2.8" fill="#5c5c5c"/>
<circle cx="510.22" cy="190.8" r="5.6" fill="url(#ring)"/>
<circle cx="510.22" cy="190.8" r="2.8" fill="#5c5c5c"/>
<circle cx="527.12" cy="190.8" r="5.6" fill="url(#ring)"/>
<circle cx="527.12" cy="190.8" r="2.8" fill="#5c5c5c"/>
<circle cx="544.02" cy="190.8" r="5.6" fill="url(#ring)"/>
<circle cx="544.02" cy="190.8" r="2.8" fill="#5c5c5c"/>
<circle cx="560.91" cy="190.8" r="5.6" fill="url(#ring)"/>
<circle cx="560.91" cy="190.8" r="2.8" fill="#5c5c5c"/>
<circle cx="70.9" cy="241.5" r="5.6" fill="url(#ring)"/>
<circle cx="70.9" cy="241.5" r="2.8" fill="#353535"/>
<circle cx="87.8" cy="241.5" r="5.6" fill="url(#ring)"/>
<circle cx="87.8" cy="241.5" r="2.8" fill="#353535"/>
<circle cx="104.69" cy="241.5" r="5.6" fill="url(#ring)"/>
<circle cx="104.69" cy="241.5" r="2.8" fill="#5c5c5c"/>
<circle cx="121.59" cy="241.5" r="5.6" fill="url(#ring)"/>
<circle cx="121.59" cy="241.5" r="2.8" fill="#353535"/>
<circle cx="138.49" cy="241.5" r="5.6" fill="url(#ring)"/>
<circle cx="138.49" cy="241.5" r="2.8" fill="#5c5c5c"/>
<circle cx="155.38" cy="241.5" r="5.6" fill="url(#ring)"/>
<circle cx="155.38" cy="241.5" r="2.8" fill="#353535"/>
<circle cx="172.28" cy="241.5" r="5.6" fill="url(#ring)"/>
<circle cx="172.28" cy="241.5" r="2.8" fill="#353535"/>
<circle cx="189.18" cy="241.5" r="5.6" fill="url(#ring)"/>
<circle cx="189.18" cy="241.5" r="2.8" fill="#353535"/>
<circle cx="206.08" cy="241.5" r="5.6" fill="url(#ring)"/>
<circle cx="206.08" cy="241.5" r="2.8" fill="#353535"/>
<circle cx="222.97" cy="241.5" r="5.6" fill="url(#ring)"/>
<circle cx="222.97" cy="241.5" r="2.8" fill="#353535"/>
<circle cx="239.87" cy="241.5" r="5.6" fill="url(#ring)"/>
<circle cx="239.87" cy="241.5" r="2.8" fill="#353535"/>
<circle cx="256.77" cy="241.5" r="5.6" fill="url(#ring)"/>
<circle cx="256.77" cy="241.5" r="2.8" fill="#353535"/>
<circle cx="273.66" cy="241.5" r="5.6" fill="url(#ring)"/>
<circle cx="273.66" cy="241.5" r="2.8" fill="#353535"/>
<circle cx="290.56" cy="241.5" r="5.6" fill="url(#ring)"/>
<circle cx="290.56" cy="241.5" r="2.8" fill="#353535"/>
<circle cx="307.46" cy="241.5" r="5.6" fill="url(#ring)"/>
<circle cx="307.46" cy="241.5" r="2.8" fill="#353535"/>
<circle cx="324.36" cy="241.5" r="5.6" fill="url(#ring)"/>
<circle cx="324.36" cy="241.5" r="2.8" fill="#5c5c5c"/>
<circle cx="341.25" cy="241.5" r="5.6" fill="url(#ring)"/>
<circle cx="341.25" cy="241.5" r="2.8" fill="#5c5c5c"/>
<circle cx="358.15" cy="241.5" r="5.6" fill="url(#ring)"/>
<circle cx="358.15" cy="241.5" r="2.8" fill="#5c5c5c"/>
<circle cx="375.05" cy="241.5" r="5.6" fill="url(#ring)"/>
<circle cx="375.05" cy="241.5" r="2.8" fill="#5c5c5c"/>
<circle cx="391.94" cy="241.5" r="5.6" fill="url(#ring)"/>
<circle cx="391.94" cy="241.5" r="2.8" fill="#5c5c5c"/>
<circle cx="408.84" cy="241.5" r="5.6" fill="url(#ring)"/>
<circle cx="408.84" cy="241.5" r="2.8" fill="#5c5c5c"/>
<circle cx="425.74" cy="241.5" r="5.6" fill="url(#ring)"/>
<circle cx="425.74" cy="241.5" r="2.8" fill="#5c5c5c"/>
<circle cx="442.63" cy="241.5" r="5.6" fill="url(#ring)"/>
<circle cx="442.63" cy="241.5" r="2.8" fill="#5c5c5c"/>
<circle cx="459.53" cy="241.5" r="5.6" fill="url(#ring)"/>
<circle cx="459.53" cy="241.5" r="2.8" fill="#5c5c5c"/>
<circle cx="476.43" cy="241.5" r="5.6" fill="url(#ring)"/>
<circle cx="476.43" cy="241.5" r="2.8" fill="#5c5c5c"/>
<circle cx="493.32" cy="241.5" r="5.6" fill="url(#ring)"/>
<circle cx="493.32" cy="241.5" r="2.8" fill="#5c5c5c"/>
<circle cx="510.22" cy="241.5" r="5.6" fill="url(#ring)"/>
<circle cx="510.22" cy="241.5" r="2.8" fill="#5c5c5c"/>
<circle cx="527.12" cy="241.5" r="5.6" fill="url(#ring)"/>
<circle cx="527.12" cy="241.5" r="2.8" fill="#5c5c5c"/>
<circle cx="544.02" cy="241.5" r="5.6" fill="url(#ring)"/>
<circle cx="544.02" cy="241.5" r="2.8" fill="#5c5c5c"/>
<circle cx="560.91" cy="241.5" r="5.6" fill="url(#ring)"/>
<circle cx="560.91" cy="241.5" r="2.8" fill="#5c5c5c"/>
<circle cx="70.9" cy="258.4" r="5.6" fill="url(#ring)"/>
<circle cx="70.9" cy="258.4" r="2.8" fill="#353535"/>
<circle cx="87.8" cy="258.4" r="5.6" fill="url(#ring)"/>
<circle cx="87.8" cy="258.4" r="2.8" fill="#353535"/>
<circle cx="104.69" cy="258.4" r="5.6" fill="url(#ring)"/>
<circle cx="104.69" cy="258.4" r="2.8" fill="#5c5c5c"/>
<circle cx="121.59" cy="258.4" r="5.6" fill="url(#ring)"/>
<circle cx="121.59" cy="258.4" r="2.8" fill="#353535"/>
<circle cx="138.49" cy="258.4" r="5.6" fill="url(#ring)"/>
<circle cx="138.49" cy="258.4" r="2.8" fill="#5c5c5c"/>
<circle cx="155.38" cy="258.4" r="5.6" fill="url(#ring)"/>
<circle cx="155.38" cy="258.4" r="2.8" fill="#353535"/>
<circle cx="172.28" cy="258.4" r="5.6" fill="url(#ring)"/>
<circle cx="172.28" cy="258.4" r="2.8" fill="#353535"/>
<circle cx="189.18" cy="258.4" r="5.6" fill="url(#ring)"/>
<circle cx="189.18" cy="258.4" r="2.8" fill="#353535"/>
<circle cx="206.08" cy="258.4" r="5.6" fill="url(#ring)"/>
<circle cx="206.08" cy="258.4" r="2.8" fill="#353535"/>
<circle cx="222.97" cy="258.4" r="5.6" fill="url(#ring)"/>
<circle cx="222.97" cy="258.4" r="2.8" fill="#353535"/>
<circle cx="239.87" cy="258.4" r="5.6" fill="url(#ring)"/>
<circle cx="239.87" cy="258.4" r="2.8" fill="#353535"/>
<circle cx="256.77" cy="258.4" r="5.6" fill="url(#ring)"/>
<circle cx="256.77" cy="258.4" r="2.8" fill="#353535"/>
<circle cx="273.66" cy="258.4" r="5.6" fill="url(#ring)"/>
<circle cx="273.66" cy="258.4" r="2.8" fill="#353535"/>
<circle cx="290.56" cy="258.4" r="5.6" fill="url(#ring)"/>
<circle cx="290.56" cy="258.4" r="2.8" fill="#353535"/>
<circle cx="307.46" cy="258.4" r="5.6" fill="url(#ring)"/>
<circle cx="307.46" cy="258.4" r="2.8" fill="#353535"/>
<circle cx="324.36" cy="258.4" r="5.6" fill="url(#ring)"/>
<circle cx="324.36" cy="258.4" r="2.8" fill="#5c5c5c"/>
<circle cx="341.25" cy="258.4" r="5.6" fill="url(#ring)"/>
<circle cx="341.25" cy="258.4" r="2.8" fill="#5c5c5c"/>
<circle cx="358.15" cy="258.4" r="5.6" fill="url(#ring)"/>
<circle cx="358.15" cy="258.4" r="2.8" fill="#5c5c5c"/>
<circle cx="375.05" cy="258.4" r="5.6" fill="url(#ring)"/>
<circle cx="375.05" cy="258.4" r="2.8" fill="#5c5c5c"/>
<circle cx="391.94" cy="258.4" r="5.6" fill="url(#ring)"/>
<circle cx="391.94" cy="258.4" r="2.8" fill="#5c5c5c"/>
<circle cx="408.84" cy="258.4" r="5.6" fill="url(#ring)"/>
<circle cx="408.84" cy="258.4" r="2.8" fill="#5c5c5c"/>
<circle cx="425.74" cy="258.4" r="5.6" fill="url(#ring)"/>
<circle cx="425.74" cy="258.4" r="2.8" fill="#5c5c5c"/>
<circle cx="442.63" cy="258.4" r="5.6" fill="url(#ring)"/>
<circle cx="442.63" cy="258.4" r="2.8" fill="#5c5c5c"/>
<circle cx="459.53" cy="258.4" r="5.6" fill="url(#ring)"/>
<circle cx="459.53" cy="258.4" r="2.8" fill="#5c5c5c"/>
<circle cx="476.43" cy="258.4" r="5.6" fill="url(#ring)"/>
<circle cx="476.43" cy="258.4" r="2.8" fill="#5c5c5c"/>
<circle cx="493.32" cy="258.4" r="5.6" fill="url(#ring)"/>
<circle cx="493.32" cy="258.4" r="2.8" fill="#5c5c5c"/>
<circle cx="510.22" cy="258.4" r="5.6" fill="url(#ring)"/>
<circle cx="510.22" cy="258.4" r="2.8" fill="#5c5c5c"/>
<circle cx="527.12" cy="258.4" r="5.6" fill="url(#ring)"/>
<circle cx="527.12" cy="258.4" r="2.8" fill="#5c5c5c"/>
<circle cx="544.02" cy="258.4" r="5.6" fill="url(#ring)"/>
<circle cx="544.02" cy="258.4" r="2.8" fill="#5c5c5c"/>
<circle cx="560.91" cy="258.4" r="5.6" fill="url(#ring)"/>
<circle cx="560.91" cy="258.4" r="2.8" fill="#5c5c5c"/>
<circle cx="70.9" cy="275.3" r="5.6" fill="url(#ring)"/>
<circle cx="70.9" cy="275.3" r="2.8" fill="#353535"/>
<circle cx="87.8" cy="275.3" r="5.6" fill="url(#ring)"/>
<circle cx="87.8" cy="275.3" r="2.8" fill="#353535"/>
<circle cx="104.69" cy="275.3" r="5.6" fill="url(#ring)"/>
<circle cx="104.69" cy="275.3" r="2.8" fill="#5c5c5c"/>
<circle cx="121.59" cy="275.3" r="5.6" fill="url(#ring)"/>
<circle cx="121.59" cy="275.3" r="2.8" fill="#353535"/>
<circle cx="138.49" cy="275.3" r="5.6" fill="url(#ring)"/>
<circle cx="138.49" cy="275.3" r="2.8" fill="#5c5c5c"/>
<circle cx="155.38" cy="275.3" r="5.6" fill="url(#ring)"/>
<circle cx="155.38" cy="275.3" r="2.8" fill="#353535"/>
<circle cx="172.28" cy="275.3" r="5.6" fill="url(#ring)"/>
<circle cx="172.28" cy="275.3" r="2.8" fill="#353535"/>
<circle cx="189.18" cy="275.3" r="5.6" fill="url(#ring)"/>
<circle cx="189.18" cy="275.3" r="2.8" fill="#353535"/>
<circle cx="206.08" cy="275.3" r="5.6" fill="url(#ring)"/>
<circle cx="206.08" cy="275.3" r="2.8" fill="#353535"/>
<circle cx="222.97" cy="275.3" r="5.6" fill="url(#ring)"/>
<circle cx="222.97" cy="275.3" r="2.8" fill="#353535"/>
<circle cx="239.87" cy="275.3" r="5.6" fill="url(#ring)"/>
<circle cx="239.87" cy="275.3" r="2.8" fill="#353535"/>
<circle cx="256.77" cy="275.3" r="5.6" fill="url(#ring)"/>
<circle cx="256.77" cy="275.3" r="2.8" fill="#353535"/>
<circle cx="273.66" cy="275.3" r="5.6" fill="url(#ring)"/>
<circle cx="273.66" cy="275.3" r="2.8" fill="#353535"/>
<circle cx="290.56" cy="275.3" r="5.6" fill="url(#ring)"/>
<circle cx="290.56" cy="275.3" r="2.8" fill="#353535"/>
<circle cx="307.46" cy="275.3" r="5.6" fill="url(#ring)"/>
<circle cx="307.46" cy="275.3" r="2.8" fill="#353535"/>
<circle cx="324.36" cy="275.3" r="5.6" fill="url(#ring)"/>
<circle cx="324.36" cy="275.3" r="2.8" fill="#5c5c5c"/>
<circle cx="341.25" cy="275.3" r="5.6" fill="url(#ring)"/>
<circle cx="341.25" cy="275.3" r="2.8" fill="#5c5c5c"/>
<circle cx="358.15" cy="275.3" r="5.6" fill="url(#ring)"/>
<circle cx="358.15" cy="275.3" r="2.8" fill="#5c5c5c"/>
<circle cx="375.05" cy="275.3" r="5.6" fill="url(#ring)"/>
<circle cx="375.05" cy="275.3" r="2.8" fill="#5c5c5c"/>
<circle cx="391.94" cy="275.3" r="5.6" fill="url(#ring)"/>
<circle cx="391.94" cy="275.3" r="2.8" fill="#5c5c5c"/>
<circle cx="408.84" cy="275.3" r="5.6" fill="url(#ring)"/>
<circle cx="408.84" cy="275.3" r="2.8" fill="#5c5c5c"/>
<circle cx="425.74" cy="275.3" r="5.6" fill="url(#ring)"/>
<circle cx="425.74" cy="275.3" r="2.8" fill="#5c5c5c"/>
<circle cx="442.63" cy="275.3" r="5.6" fill="url(#ring)"/>
<circle cx="442.63" cy="275.3" r="2.8" fill="#5c5c5c"/>
<circle cx="459.53" cy="275.3" r="5.6" fill="url(#ring)"/>
<circle cx="459.53" cy="275.3" r="2.8" fill="#5c5c5c"/>
<circle cx="476.43" cy="275.3" r="5.6" fill="url(#ring)"/>
<circle cx="476.43" cy="275.3" r="2.8" fill="#5c5c5c"/>
<circle cx="493.32" cy="275.3" r="5.6" fill="url(#ring)"/>
<circle cx="493.32" cy="275.3" r="2.8" fill="#5c5c5c"/>
<circle cx="510.22" cy="275.3" r="5.6" fill="url(#ring)"/>
<circle cx="510.22" cy="275.3" r="2.8" fill="#5c5c5c"/>
<circle cx="527.12" cy="275.3" r="5.6" fill="url(#ring)"/>
<circle cx="527.12" cy="275.3" r="2.8" fill="#5c5c5c"/>
<circle cx="544.02" cy="275.3" r="5.6" fill="url(#ring)"/>
<circle cx="544.02" cy="275.3" r="2.8" fill="#5c5c5c"/>
<circle cx="560.91" cy="275.3" r="5.6" fill="url(#ring)"/>
<circle cx="560.91" cy="275.3" r="2.8" fill="#5c5c5c"/>
<circle cx="70.9" cy="292.2" r="5.6" fill="url(#ring)"/>
<circle cx="70.9" cy="292.2" r="2.8" fill="#353535"/>
<circle cx="87.8" cy="292.2" r="5.6" fill="url(#ring)"/>
<circle cx="87.8" cy="292.2" r="2.8" fill="#353535"/>
<circle cx="104.69" cy="292.2" r="5.6" fill="url(#ring)"/>
<circle cx="104.69" cy="292.2" r="2.8" fill="#5c5c5c"/>
<circle cx="121.59" cy="292.2" r="5.6" fill="url(#ring)"/>
<circle cx="121.59" cy="292.2" r="2.8" fill="#353535"/>
<circle cx="138.49" cy="292.2" r="5.6" fill="url(#ring)"/>
<circle cx="138.49" cy="292.2" r="2.8" fill="#5c5c5c"/>
<circle cx="155.38" cy="292.2" r="5.6" fill="url(#ring)"/>
<circle cx="155.38" cy="292.2" r="2.8" fill="#353535"/>
<circle cx="172.28" cy="292.2" r="5.6" fill="url(#ring)"/>
<circle cx="172.28" cy="292.2" r="2.8" fill="#353535"/>
<circle cx="189.18" cy="292.2" r="5.6" fill="url(#ring)"/>
<circle cx="189.18" cy="292.2" r="2.8" fill="#353535"/>
<circle cx="206.08" cy="292.2" r="5.6" fill="url(#ring)"/>
<circle cx="206.08" cy="292.2" r="2.8" fill="#353535"/>
<circle cx="222.97" cy="292.2" r="5.6" fill="url(#ring)"/>
<circle cx="222.97" cy="292.2" r="2.8" fill="#353535"/>
<circle cx="239.87" cy="292.2" r="5.6" fill="url(#ring)"/>
<circle cx="239.87" cy="292.2" r="2.8" fill="#353535"/>
<circle cx="256.77" cy="292.2" r="5.6" fill="url(#ring)"/>
<circle cx="256.77" cy="292.2" r="2.8" fill="#353535"/>
<circle cx="273.66" cy="292.2" r="5.6" fill="url(#ring)"/>
<circle cx="273.66" cy="292.2" r="2.8" fill="#353535"/>
<circle cx="290.56" cy="292.2" r="5.6" fill="url(#ring)"/>
<circle cx="290.56" cy="292.2" r="2.8" fill="#353535"/>
<circle cx="307.46" cy="292.2" r="5.6" fill="url(#ring)"/>
<circle cx="307.46" cy="292.2" r="2.8" fill="#353535"/>
<circle cx="324.36" cy="292.2" r="5.6" fill="url(#ring)"/>
<circle cx="324.36" cy="292.2" r="2.8" fill="#5c5c5c"/>
<circle cx="341.25" cy="292.2" r="5.6" fill="url(#ring)"/>
<circle cx="341.25" cy="292.2" r="2.8" fill="#5c5c5c"/>
<circle cx="358.15" cy="292.2" r="5.6" fill="url(#ring)"/>
<circle cx="358.15" cy="292.2" r="2.8" fill="#5c5c5c"/>
<circle cx="375.05" cy="292.2" r="5.6" fill="url(#ring)"/>
<circle cx="375.05" cy="292.2" r="2.8" fill="#5c5c5c"/>
<circle cx="391.94" cy="292.2" r="5.6" fill="url(#ring)"/>
<circle cx="391.94" cy="292.2" r="2.8" fill="#5c5c5c"/>
<circle cx="408.84" cy="292.2" r="5.6" fill="url(#ring)"/>
<circle cx="408.84" cy="292.2" r="2.8" fill="#5c5c5c"/>
<circle cx="425.74" cy="292.2" r="5.6" fill="url(#ring)"/>
<circle cx="425.74" cy="292.2" r="2.8" fill="#5c5c5c"/>
<circle cx="442.63" cy="292.2" r="5.6" fill="url(#ring)"/>
<circle cx="442.63" cy="292.2" r="2.8" fill="#5c5c5c"/>
<circle cx="459.53" cy="292.2" r="5.6" fill="url(#ring)"/>
<circle cx="459.53" cy="292.2" r="2.8" fill="#5c5c5c"/>
<circle cx="476.43" cy="292.2" r="5.6" fill="url(#ring)"/>
<circle cx="476.43" cy="292.2" r="2.8" fill="#5c5c5c"/>
<circle cx="493.32" cy="292.2" r="5.6" fill="url(#ring)"/>
<circle cx="493.32" cy="292.2" r="2.8" fill="#5c5c5c"/>
<circle cx="510.22" cy="292.2" r="5.6" fill="url(#ring)"/>
<circle cx="510.22" cy="292.2" r="2.8" fill="#5c5c5c"/>
<circle cx="527.12" cy="292.2" r="5.6" fill="url(#ring)"/>
<circle cx="527.12" cy="292.2" r="2.8" fill="#5c5c5c"/>
<circle cx="544.02" cy="292.2" r="5.6" fill="url(#ring)"/>
<circle cx="544.02" cy="292.2" r="2.8" fill="#5c5c5c"/>
<circle cx="560.91" cy="292.2" r="5.6" fill="url(#ring)"/>
<circle cx="560.91" cy="292.2" r="2.8" fill="#5c5c5c"/>
<circle cx="70.9" cy="309.1" r="5.6" fill="url(#ring)"/>
<circle cx="70.9" cy="309.1" r="2.8" fill="#353535"/>
<circle cx="87.8" cy="309.1" r="5.6" fill="url(#ring)"/>
<circle cx="87.8" cy="309.1" r="2.8" fill="#353535"/>
<circle cx="104.69" cy="309.1" r="5.6" fill="url(#ring)"/>
<circle cx="104.69" cy="309.1" r="2.8" fill="#5c5c5c"/>
<circle cx="121.59" cy="309.1" r="5.6" fill="url(#ring)"/>
<circle cx="121.59" cy="309.1" r="2.8" fill="#353535"/>
<circle cx="138.49" cy="309.1" r="5.6" fill="url(#ring)"/>
<circle cx="138.49" cy="309.1" r="2.8" fill="#5c5c5c"/>
<circle cx="155.38" cy="309.1" r="5.6" fill="url(#ring)"/>
<circle cx="155.38" cy="309.1" r="2.8" fill="#353535"/>
<circle cx="172.28" cy="309.1" r="5.6" fill="url(#ring)"/>
<circle cx="172.28" cy="309.1" r="2.8" fill="#353535"/>
<circle cx="189.18" cy="309.1" r="5.6" fill="url(#ring)"/>
<circle cx="189.18" cy="309.1" r="2.8" fill="#353535"/>
<circle cx="206.08" cy="309.1" r="5.6" fill="url(#ring)"/>
<circle cx="206.08" cy="309.1" r="2.8" fill="#353535"/>
<circle cx="222.97" cy="309.1" r="5.6" fill="url(#ring)"/>
<circle cx="222.97" cy="309.1" r="2.8" fill="#353535"/>
<circle cx="239.87" cy="309.1" r="5.6" fill="url(#ring)"/>
<circle cx="239.87" cy="309.1" r="2.8" fill="#353535"/>
<circle cx="256.77" cy="309.1" r="5.6" fill="url(#ring)"/>
<circle cx="256.77" cy="309.1" r="2.8" fill="#353535"/>
<circle cx="273.66" cy="309.1" r="5.6" fill="url(#ring)"/>
<circle cx="273.66" cy="309.1" r="2.8" fill="#353535"/>
<circle cx="290.56" cy="309.1" r="5.6" fill="url(#ring)"/>
<circle cx="290.56" cy="309.1" r="2.8" fill="#353535"/>
<circle cx="307.46" cy="309.1" r="5.6" fill="url(#ring)"/>
<circle cx="307.46" cy="309.1" r="2.8" fill="#353535"/>
<circle cx="324.36" cy="309.1" r="5.6" fill="url(#ring)"/>
<circle cx="324.36" cy="309.1" r="2.8" fill="#5c5c5c"/>
<circle cx="341.25" cy="309.1" r="5.6" fill="url(#ring)"/>
<circle cx="341.25" cy="309.1" r="2.8" fill="#5c5c5c"/>
<circle cx="358.15" cy="309.1" r="5.6" fill="url(#ring)"/>
<circle cx="358.15" cy="309.1" r="2.8" fill="#5c5c5c"/>
<circle cx="375.05" cy="309.1" r="5.6" fill="url(#ring)"/>
<circle cx="375.05" cy="309.1" r="2.8" fill="#5c5c5c"/>
<circle cx="391.94" cy="309.1" r="5.6" fill="url(#ring)"/>
<circle cx="391.94" cy="309.1" r="2.8" fill="#5c5c5c"/>
<circle cx="408.84" cy="309.1" r="5.6" fill="url(#ring)"/>
<circle cx="408.84" cy="309.1" r="2.8" fill="#5c5c5c"/>
<circle cx="425.74" cy="309.1" r="5.6" fill="url(#ring)"/>
<circle cx="425.74" cy="309.1" r="2.8" fill="#5c5c5c"/>
<circle cx="442.63" cy="309.1" r="5.6" fill="url(#ring)"/>
<circle cx="442.63" cy="309.1" r="2.8" fill="#5c5c5c"/>
<circle cx="459.53" cy="309.1" r="5.6" fill="url(#ring)"/>
<circle cx="459.53" cy="309.1" r="2.8" fill="#5c5c5c"/>
<circle cx="476.43" cy="309.1" r="5.6" fill="url(#ring)"/>
<circle cx="476.43" cy="309.1" r="2.8" fill="#5c5c5c"/>
<circle cx="493.32" cy="309.1" r="5.6" fill="url(#ring)"/>
<circle cx="493.32" cy="309.1" r="2.8" fill="#5c5c5c"/>
<circle cx="510.22" cy="309.1" r="5.6" fill="url(#ring)"/>
<circle cx="510.22" cy="309.1" r="2.8" fill="#5c5c5c"/>
<circle cx="527.12" cy="309.1" r="5.6" fill="url(#ring)"/>
<circle cx="527.12" cy="309.1" r="2.8" fill="#5c5c5c"/>
<circle cx="544.02" cy="309.1" r="5.6" fill="url(#ring)"/>
<circle cx="544.02" cy="309.1" r="2.8" fill="#5c5c5c"/>
<circle cx="560.91" cy="309.1" r="5.6" fill="url(#ring)"/>
<circle cx="560.91" cy="309.1" r="2.8" fill="#5c5c5c"/>
<circle cx="77.15" cy="55.5" r="5.6" fill="url(#ring)"/>
<circle cx="77.15" cy="55.5" r="2.8" fill="#5c5c5c"/>
<circle cx="94.05" cy="55.5" r="5.6" fill="url(#ring)"/>
<circle cx="94.05" cy="55.5" r="2.8" fill="#5c5c5c"/>
<circle cx="110.94" cy="55.5" r="5.6" fill="url(#ring)"/>
<circle cx="110.94" cy="55.5" r="2.8" fill="#5c5c5c"/>
<circle cx="127.84" cy="55.5" r="5.6" fill="url(#ring)"/>
<circle cx="127.84" cy="55.5" r="2.8" fill="#5c5c5c"/>
<circle cx="144.74" cy="55.5" r="5.6" fill="url(#ring)"/>
<circle cx="144.74" cy="55.5" r="2.8" fill="#5c5c5c"/>
<circle cx="178.53" cy="55.5" r="5.6" fill="url(#ring)"/>
<circle cx="178.53" cy="55.5" r="2.8" fill="#5c5c5c"/>
<circle cx="195.43" cy="55.5" r="5.6" fill="url(#ring)"/>
<circle cx="195.43" cy="55.5" r="2.8" fill="#5c5c5c"/>
<circle cx="212.33" cy="55.5" r="5.6" fill="url(#ring)"/>
<circle cx="212.33" cy="55.5" r="2.8" fill="#5c5c5c"/>
<circle cx="229.22" cy="55.5" r="5.6" fill="url(#ring)"/>
<circle cx="229.22" cy="55.5" r="2.8" fill="#5c5c5c"/>
<circle cx="246.12" cy="55.5" r="5.6" fill="url(#ring)"/>
<circle cx="246.12" cy="55.5" r="2.8" fill="#5c5c5c"/>
<circle cx="279.91" cy="55.5" r="5.6" fill="url(#ring)"/>
<circle cx="279.91" cy="55.5" r="2.8" fill="#5c5c5c"/>
<circle cx="296.81" cy="55.5" r="5.6" fill="url(#ring)"/>
<circle cx="296.81" cy="55.5" r="2.8" fill="#5c5c5c"/>
<circle cx="313.71" cy="55.5" r="5.6" fill="url(#ring)"/>
<circle cx="313.71" cy="55.5" r="2.8" fill="#5c5c5c"/>
<circle cx="330.6" cy="55.5" r="5.6" fill="url(#ring)"/>
<circle cx="330.6" cy="55.5" r="2.8" fill="#5c5c5c"/>
<circle cx="347.5" cy="55.5" r="5.6" fill="url(#ring)"/>
<circle cx="347.5" cy="55.5" r="2.8" fill="#5c5c5c"/>
<circle cx="381.3" cy="55.5" r="5.6" fill="url(#ring)"/>
<circle cx="381.3" cy="55.5" r="2.8" fill="#5c5c5c"/>
<circle cx="398.19" cy="55.5" r="5.6" fill="url(#ring)"/>
<circle cx="398.19" cy="55.5" r="2.8" fill="#5c5c5c"/>
<circle cx="415.09" cy="55.5" r="5.6" fill="url(#ring)"/>
<circle cx="415.09" cy="55.5" r="2.8" fill="#5c5c5c"/>
<circle cx="431.99" cy="55.5" r="5.6" fill="url(#ring)"/>
<circle cx="431.99" cy="55.5" r="2.8" fill="#5c5c5c"/>
<circle cx="448.88" cy="55.5" r="5.6" fill="url(#ring)"/>
<circle cx="448.88" cy="55.5" r="2.8" fill="#5c5c5c"/>
<circle cx="482.68" cy="55.5" r="5.6" fill="url(#ring)"/>
<circle cx="482.68" cy="55.5" r="2.8" fill="#5c5c5c"/>
<circle cx="499.57" cy="55.5" r="5.6" fill="url(#ring)"/>
<circle cx="499.57" cy="55.5" r="2.8" fill="#5c5c5c"/>
<circle cx="516.47" cy="55.5" r="5.6" fill="url(#ring)"/>
<circle cx="516.47" cy="55.5" r="2.8" fill="#5c5c5c"/>
<circle cx="533.37" cy="55.5" r="5.6" fill="url(#ring)"/>
<circle cx="533.37" cy="55.5" r="2.8" fill="#5c5c5c"/>
<circle cx="550.27" cy="55.5" r="5.6" fill="url(#ring)"/>
<circle cx="550.27" cy="55.5" r="2.8" fill="#5c5c5c"/>
<circle cx="77.15" cy="72.4" r="5.6" fill="url(#ring)"/>
<circle cx="77.15" cy="72.4" r="2.8" fill="#5c5c5c"/>
<circle cx="94.05" cy="72.4" r="5.6" fill="url(#ring)"/>
<circle cx="94.05" cy="72.4" r="2.8" fill="#5c5c5c"/>
<circle cx="110.94" cy="72.4" r="5.6" fill="url(#ring)"/>
<circle cx="110.94" cy="72.4" r="2.8" fill="#5c5c5c"/>
<circle cx="127.84" cy="72.4" r="5.6" fill="url(#ring)"/>
<circle cx="127.84" cy="72.4" r="2.8" fill="#5c5c5c"/>
<circle cx="144.74" cy="72.4" r="5.6" fill="url(#ring)"/>
<circle cx="144.74" cy="72.4" r="2.8" fill="#5c5c5c"/>
<circle cx="178.53" cy="72.4" r="5.6" fill="url(#ring)"/>
<circle cx="178.53" cy="72.4" r="2.8" fill="#5c5c5c"/>
<circle cx="195.43" cy="72.4" r="5.6" fill="url(#ring)"/>
<circle cx="195.43" cy="72.4" r="2.8" fill="#5c5c5c"/>
<circle cx="212.33" cy="72.4" r="5.6" fill="url(#ring)"/>
<circle cx="212.33" cy="72.4" r="2.8" fill="#5c5c5c"/>
<circle cx="229.22" cy="72.4" r="5.6" fill="url(#ring)"/>
<circle cx="229.22" cy="72.4" r="2.8" fill="#5c5c5c"/>
<circle cx="246.12" cy="72.4" r="5.6" fill="url(#ring)"/>
<circle cx="246.12" cy="72.4" r="2.8" fill="#5c5c5c"/>
<circle cx="279.91" cy="72.4" r="5.6" fill="url(#ring)"/>
<circle cx="279.91" cy="72.4" r="2.8" fill="#5c5c5c"/>
<circle cx="296.81" cy="72.4" r="5.6" fill="url(#ring)"/>
<circle cx="296.81" cy="72.4" r="2.8" fill="#5c5c5c"/>
<circle cx="313.71" cy="72.4" r="5.6" fill="url(#ring)"/>
<circle cx="313.71" cy="72.4" r="2.8" fill="#5c5c5c"/>
<circle cx="330.6" cy="72.4" r="5.6" fill="url(#ring)"/>
<circle cx="330.6" cy="72.4" r="2.8" fill="#5c5c5c"/>
<circle cx="347.5" cy="72.4" r="5.6" fill="url(#ring)"/>
<circle cx="347.5" cy="72.4" r="2.8" fill="#5c5c5c"/>
<circle cx="381.3" cy="72.4" r="5.6" fill="url(#ring)"/>
<circle cx="381.3" cy="72.4" r="2.8" fill="#5c5c5c"/>
<circle cx="398.19" cy="72.4" r="5.6" fill="url(#ring)"/>
<circle cx="398.19" cy="72.4" r="2.8" fill="#5c5c5c"/>
<circle cx="415.09" cy="72.4" r="5.6" fill="url(#ring)"/>
<circle cx="415.09" cy="72.4" r="2.8" fill="#5c5c5c"/>
<circle cx="431.99" cy="72.4" r="5.6" fill="url(#ring)"/>
<circle cx="431.99" cy="72.4" r="2.8" fill="#5c5c5c"/>
<circle cx="448.88" cy="72.4" r="5.6" fill="url(#ring)"/>
<circle cx="448.88" cy="72.4" r="2.8" fill="#5c5c5c"/>
<circle cx="482.68" cy="72.4" r="5.6" fill="url(#ring)"/>
<circle cx="482.68" cy="72.4" r="2.8" fill="#5c5c5c"/>
<circle cx="499.57" cy="72.4" r="5.6" fill="url(#ring)"/>
<circle cx="499.57" cy="72.4" r="2.8" fill="#5c5c5c"/>
<circle cx="516.47" cy="72.4" r="5.6" fill="url(#ring)"/>
<circle cx="516.47" cy="72.4" r="2.8" fill="#5c5c5c"/>
<circle cx="533.37" cy="72.4" r="5.6" fill="url(#ring)"/>
<circle cx="533.37" cy="72.4" r="2.8" fill="#5c5c5c"/>
<circle cx="550.27" cy="72.4" r="5.6" fill="url(#ring)"/>
<circle cx="550.27" cy="72.4" r="2.8" fill="#5c5c5c"/>
<circle cx="77.15" cy="360" r="5.6" fill="url(#ring)"/>
<circle cx="77.15" cy="360" r="2.8" fill="#353535"/>
<circle cx="94.05" cy="360" r="5.6" fill="url(#ring)"/>
<circle cx="94.05" cy="360" r="2.8" fill="#353535"/>
<circle cx="110.94" cy="360" r="5.6" fill="url(#ring)"/>
<circle cx="110.94" cy="360" r="2.8" fill="#353535"/>
<circle cx="127.84" cy="360" r="5.6" fill="url(#ring)"/>
<circle cx="127.84" cy="360" r="2.8" fill="#353535"/>
<circle cx="144.74" cy="360" r="5.6" fill="url(#ring)"/>
<circle cx="144.74" cy="360" r="2.8" fill="#353535"/>
<circle cx="178.53" cy="360" r="5.6" fill="url(#ring)"/>
<circle cx="178.53" cy="360" r="2.8" fill="#353535"/>
<circle cx="195.43" cy="360" r="5.6" fill="url(#ring)"/>
<circle cx="195.43" cy="360" r="2.8" fill="#353535"/>
<circle cx="212.33" cy="360" r="5.6" fill="url(#ring)"/>
<circle cx="212.33" cy="360" r="2.8" fill="#353535"/>
<circle cx="229.22" cy="360" r="5.6" fill="url(#ring)"/>
<circle cx="229.22" cy="360" r="2.8" fill="#353535"/>
<circle cx="246.12" cy="360" r="5.6" fill="url(#ring)"/>
<circle cx="246.12" cy="360" r="2.8" fill="#353535"/>
<circle cx="279.91" cy="360" r="5.6" fill="url(#ring)"/>
<circle cx="279.91" cy="360" r="2.8" fill="#353535"/>
<circle cx="296.81" cy="360" r="5.6" fill="url(#ring)"/>
<circle cx="296.81" cy="360" r="2.8" fill="#353535"/>
<circle cx="313.71" cy="360" r="5.6" fill="url(#ring)"/>
<circle cx="313.71" cy="360" r="2.8" fill="#353535"/>
<circle cx="330.6" cy="360" r="5.6" fill="url(#ring)"/>
<circle cx="330.6" cy="360" r="2.8" fill="#353535"/>
<circle cx="347.5" cy="360" r="5.6" fill="url(#ring)"/>
<circle cx="347.5" cy="360" r="2.8" fill="#353535"/>
<circle cx="381.3" cy="360" r="5.6" fill="url(#ring)"/>
<circle cx="381.3" cy="360" r="2.8" fill="#353535"/>
<circle cx="398.19" cy="360" r="5.6" fill="url(#ring)"/>
<circle cx="398.19" cy="360" r="2.8" fill="#353535"/>
<circle cx="415.09" cy="360" r="5.6" fill="url(#ring)"/>
<circle cx="415.09" cy="360" r="2.8" fill="#353535"/>
<circle cx="431.99" cy="360" r="5.6" fill="url(#ring)"/>
<circle cx="431.99" cy="360" r="2.8" fill="#353535"/>
<circle cx="448.88" cy="360" r="5.6" fill="url(#ring)"/>
<circle cx="448.88" cy="360" r="2.8" fill="#353535"/>
<circle cx="482.68" cy="360" r="5.6" fill="url(#ring)"/>
<circle cx="482.68" cy="360" r="2.8" fill="#353535"/>
<circle cx="499.57" cy="360" r="5.6" fill="url(#ring)"/>
<circle cx="499.57" cy="360" r="2.8" fill="#353535"/>
<circle cx="516.47" cy="360" r="5.6" fill="url(#ring)"/>
<circle cx="516.47" cy="360" r="2.8" fill="#353535"/>
<circle cx="533.37" cy="360" r="5.6" fill="url(#ring)"/>
<circle cx="533.37" cy="360" r="2.8" fill="#353535"/>
<circle cx="550.27" cy="360" r="5.6" fill="url(#ring)"/>
<circle cx="550.27" cy="360" r="2.8" fill="#353535"/>
<circle cx="77.15" cy="376.8" r="5.6" fill="url(#ring)"/>
<circle cx="77.15" cy="376.8" r="2.8" fill="#353535"/>
<circle cx="94.05" cy="376.8" r="5.6" fill="url(#ring)"/>
<circle cx="94.05" cy="376.8" r="2.8" fill="#353535"/>
<circle cx="110.94" cy="376.8" r="5.6" fill="url(#ring)"/>
<circle cx="110.94" cy="376.8" r="2.8" fill="#353535"/>
<circle cx="127.84" cy="376.8" r="5.6" fill="url(#ring)"/>
<circle cx="127.84" cy="376.8" r="2.8" fill="#353535"/>
<circle cx="144.74" cy="376.8" r="5.6" fill="url(#ring)"/>
<circle cx="144.74" cy="376.8" r="2.8" fill="#353535"/>
<circle cx="178.53" cy="376.8" r="5.6" fill="url(#ring)"/>
<circle cx="178.53" cy="376.8" r="2.8" fill="#353535"/>
<circle cx="195.43" cy="376.8" r="5.6" fill="url(#ring)"/>
<circle cx="195.43" cy="376.8" r="2.8" fill="#353535"/>
<circle cx="212.33" cy="376.8" r="5.6" fill="url(#ring)"/>
<circle cx="212.33" cy="376.8" r="2.8" fill="#353535"/>
<circle cx="229.22" cy="376.8" r="5.6" fill="url(#ring)"/>
<circle cx="229.22" cy="376.8" r="2.8" fill="#353535"/>
<circle cx="246.12" cy="376.8" r="5.6" fill="url(#ring)"/>
<circle cx="246.12" cy="376.8" r="2.8" fill="#353535"/>
<circle cx="279.91" cy="376.8" r="5.6" fill="url(#ring)"/>
<circle cx="279.91" cy="376.8" r="2.8" fill="#353535"/>
<circle cx="296.81" cy="376.8" r="5.6" fill="url(#ring)"/>
<circle cx="296.81" cy="376.8" r="2.8" fill="#353535"/>
<circle cx="313.71" cy="376.8" r="5.6" fill="url(#ring)"/>
<circle cx="313.71" cy="376.8" r="2.8" fill="#353535"/>
<circle cx="330.6" cy="376.8" r="5.6" fill="url(#ring)"/>
<circle cx="330.6" cy="376.8" r="2.8" fill="#353535"/>
<circle cx="347.5" cy="376.8" r="5.6" fill="url(#ring)"/>
<circle cx="347.5" cy="376.8" r="2.8" fill="#353535"/>
<circle cx="381.3" cy="376.8" r="5.6" fill="url(#ring)"/>
<circle cx="381.3" cy="376.8" r="2.8" fill="#353535"/>
<circle cx="398.19" cy="376.8" r="5.6" fill="url(#ring)"/>
<circle cx="398.19" cy="376.8" r="2.8" fill="#353535"/>
<circle cx="415.09" cy="376.8" r="5.6" fill="url(#ring)"/>
<circle cx="415.09" cy="376.8" r="2.8" fill="#353535"/>
<circle cx="431.99" cy="376.8" r="5.6" fill="url(#ring)"/>
<circle cx="431.99" cy="376.8" r="2.8" fill="#353535"/>
<circle cx="448.88" cy="376.8" r="5.6" fill="url(#ring)"/>
<circle cx="448.88" cy="376.8" r="2.8" fill="#353535"/>
<circle cx="482.68" cy="376.8" r="5.6" fill="url(#ring)"/>
<circle cx="482.68" cy="376.8" r="2.8" fill="#353535"/>
<circle cx="499.57" cy="376.8" r="5.6" fill="url(#ring)"/>
<circle cx="499.57" cy="376.8" r="2.8" fill="#353535"/>
<circle cx="516.47" cy="376.8" r="5.6" fill="url(#ring)"/>
<circle cx="516.47" cy="376.8" r="2.8" fill="#353535"/>
<circle cx="533.37" cy="376.8" r="5.6" fill="url(#ring)"/>
<circle cx="533.37" cy="376.8" r="2.8" fill="#353535"/>
<circle cx="550.27" cy="376.8" r="5.6" fill="url(#ring)"/>
<circle cx="550.27" cy="376.8" r="2.8" fill="#353535"/>
<text x="0" y="0" transform="translate(55.3 123.2) rotate(-90)" font-size="10.5" fill="#b2b2b2" text-anchor="middle" dominant-baseline="central" font-family="Liberation Sans">J</text>
<text x="0" y="0" transform="translate(579 123.2) rotate(-90)" font-size="10.5" fill="#b2b2b2" text-anchor="middle" dominant-baseline="central" font-family="Liberation Sans">J</text>
<text x="0" y="0" transform="translate(55.3 140.1) rotate(-90)" font-size="10.5" fill="#b2b2b2" text-anchor="middle" dominant-baseline="central" font-family="Liberation Sans">I</text>
<text x="0" y="0" transform="translate(579 140.1) rotate(-90)" font-size="10.5" fill="#b2b2b2" text-anchor="middle" dominant-baseline="central" font-family="Liberation Sans">I</text>
<text x="0" y="0" transform="translate(55.3 157) rotate(-90)" font-size="10.5" fill="#b2b2b2" text-anchor="middle" dominant-baseline="central" font-family="Liberation Sans">H</text>
<text x="0" y="0" transform="translate(579 157) rotate(-90)" font-size="10.5" fill="#b2b2b2" text-anchor="middle" dominant-baseline="central" font-family="Liberation Sans">H</text>
<text x="0" y="0" transform="translate(55.3 173.9) rotate(-90)" font-size="10.5" fill="#b2b2b2" text-anchor="middle" dominant-baseline="central" font-family="Liberation Sans">G</text>
<text x="0" y="0" transform="translate(579 173.9) rotate(-90)" font-size="10.5" fill="#b2b2b2" text-anchor="middle" dominant-baseline="central" font-family="Liberation Sans">G</text>
<text x="0" y="0" transform="translate(55.3 190.8) rotate(-90)" font-size="10.5" fill="#b2b2b2" text-anchor="middle" dominant-baseline="central" font-family="Liberation Sans">F</text>
<text x="0" y="0" transform="translate(579 190.8) rotate(-90)" font-size="10.5" fill="#b2b2b2" text-anchor="middle" dominant-baseline="central" font-family="Liberation Sans">F</text>
<text x="0" y="0" transform="translate(55.3 241.5) rotate(-90)" font-size="10.5" fill="#b2b2b2" text-anchor="middle" dominant-baseline="central" font-family="Liberation Sans">E</text>
<text x="0" y="0" transform="translate(579 241.5) rotate(-90)" font-size="10.5" fill="#b2b2b2" text-anchor="middle" dominant-baseline="central" font-family="Liberation Sans">E</text>
<text x="0" y="0" transform="translate(55.3 258.4) rotate(-90)" font-size="10.5" fill="#b2b2b2" text-anchor="middle" dominant-baseline="central" font-family="Liberation Sans">D</text>
<text x="0" y="0" transform="translate(579 258.4) rotate(-90)" font-size="10.5" fill="#b2b2b2" text-anchor="middle" dominant-baseline="central" font-family="Liberation Sans">D</text>
<text x="0" y="0" transform="translate(55.3 275.3) rotate(-90)" font-size="10.5" fill="#b2b2b2" text-anchor="middle" dominant-baseline="central" font-family="Liberation Sans">C</text>
<text x="0" y="0" transform="translate(579 275.3) rotate(-90)" font-size="10.5" fill="#b2b2b2" text-anchor="middle" dominant-baseline="central" font-family="Liberation Sans">C</text>
<text x="0" y="0" transform="translate(55.3 292.2) rotate(-90)" font-size="10.5" fill="#b2b2b2" text-anchor="middle" dominant-baseline="central" font-family="Liberation Sans">B</text>
<text x="0" y="0" transform="translate(579 292.2) rotate(-90)" font-size="10.5" fill="#b2b2b2" text-anchor="middle" dominant-baseline="central" font-family="Liberation Sans">B</text>
<text x="0" y="0" transform="translate(55.3 309.1) rotate(-90)" font-size="10.5" fill="#b2b2b2" text-anchor="middle" dominant-baseline="central" font-family="Liberation Sans">A</text>
<text x="0" y="0" transform="translate(579 309.1) rotate(-90)" font-size="10.5" fill="#b2b2b2" text-anchor="middle" dominant-baseline="central" font-family="Liberation Sans">A</text>
<text x="0" y="0" transform="translate(71.5 110.2) rotate(-90)" font-size="10.5" fill="#b2b2b2" text-anchor="start" dominant-baseline="central" font-family="Liberation Sans">1</text>
<text x="0" y="0" transform="translate(71.5 335) rotate(-90)" font-size="10.5" fill="#b2b2b2" text-anchor="start" dominant-baseline="central" font-family="Liberation Sans">1</text>
<text x="0" y="0" transform="translate(139.09 110.2) rotate(-90)" font-size="10.5" fill="#b2b2b2" text-anchor="start" dominant-baseline="central" font-family="Liberation Sans">5</text>
<text x="0" y="0" transform="translate(139.09 335) rotate(-90)" font-size="10.5" fill="#b2b2b2" text-anchor="start" dominant-baseline="central" font-family="Liberation Sans">5</text>
<text x="0" y="0" transform="translate(223.57 110.2) rotate(-90)" font-size="10.5" fill="#b2b2b2" text-anchor="start" dominant-baseline="central" font-family="Liberation Sans">10</text>
<text x="0" y="0" transform="translate(223.57 335) rotate(-90)" font-size="10.5" fill="#b2b2b2" text-anchor="start" dominant-baseline="central" font-family="Liberation Sans">10</text>
<text x="0" y="0" transform="translate(308.06 110.2) rotate(-90)" font-size="10.5" fill="#b2b2b2" text-anchor="start" dominant-baseline="central" font-family="Liberation Sans">15</text>
<text x="0" y="0" transform="translate(308.06 335) rotate(-90)" font-size="10.5" fill="#b2b2b2" text-anchor="start" dominant-baseline="central" font-family="Liberation Sans">15</text>
<text x="0" y="0" transform="translate(392.54 110.2) rotate(-90)" font-size="10.5" fill="#b2b2b2" text-anchor="start" dominant-baseline="central" font-family="Liberation Sans">20</text>
<text x="0" y="0" transform="translate(392.54 335) rotate(-90)" font-size="10.5" fill="#b2b2b2" text-anchor="start" dominant-baseline="central" font-family="Liberation Sans">20</text>
<text x="0" y="0" transform="translate(477.03 110.2) rotate(-90)" font-size="10.5" fill="#b2b2b2" text-anchor="start" dominant-baseline="central" font-family="Liberation Sans">25</text>
<text x="0" y="0" transform="translate(477.03 335) rotate(-90)" font-size="10.5" fill="#b2b2b2" text-anchor="start" dominant-baseline="central" font-family="Liberation Sans">25</text>
<text x="0" y="0" transform="translate(561.51 110.2) rotate(-90)" font-size="10.5" fill="#b2b2b2" text-anchor="start" dominant-baseline="central" font-family="Liberation Sans">30</text>
<text x="0" y="0" transform="translate(561.51 335) rotate(-90)" font-size="10.5" fill="#b2b2b2" text-anchor="start" dominant-baseline="central" font-family="Liberation Sans">30</text></g>
<path d="M319.31,131.7 L329.4,131.7 L332.8,135.3 L336.2,131.7 L346.3,131.7 L349.7,135.3 L353.1,131.7 L363.2,131.7 L366.6,135.3 L370,131.7 L380.09,131.7 L383.49,135.3 L386.89,131.7 L396.99,131.7 L400.39,135.3 L403.79,131.7 L413.89,131.7 L417.29,135.3 L420.69,131.7 L430.79,131.7 L434.19,135.3 L437.59,131.7 L447.68,131.7 L451.08,135.3 L454.48,131.7 L464.58,131.7 L467.98,135.3 L471.38,131.7 L481.48,131.7 L484.88,135.3 L488.28,131.7 L498.37,131.7 L501.77,135.3 L505.17,131.7 L515.27,131.7 L518.67,135.3 L522.07,131.7 L532.17,131.7 L535.57,135.3 L538.97,131.7 L549.06,131.7 L552.46,135.3 L555.86,131.7 L565.96,131.7 L569.36,135.3 L569.36,145.3 L565.96,148.9 L555.86,148.9 L552.46,145.3 L549.06,148.9 L538.97,148.9 L535.57,145.3 L532.17,148.9 L522.07,148.9 L518.67,145.3 L515.27,148.9 L505.17,148.9 L501.77,145.3 L498.37,148.9 L488.28,148.9 L484.88,145.3 L481.48,148.9 L471.38,148.9 L467.98,145.3 L464.58,148.9 L454.48,148.9 L451.08,145.3 L447.68,148.9 L437.59,148.9 L434.19,145.3 L430.79,148.9 L420.69,148.9 L417.29,145.3 L413.89,148.9 L403.79,148.9 L400.39,145.3 L396.99,148.9 L386.89,148.9 L383.49,145.3 L380.09,148.9 L370,148.9 L366.6,145.3 L363.2,148.9 L353.1,148.9 L349.7,145.3 L346.3,148.9 L336.2,148.9 L332.8,145.3 L329.4,148.9 L319.31,148.9 L315.91,145.3 L315.91,135.3 Z" fill="#484848"/>
<rect x="322.5" y="137.9" width="3.7" height="4.8" fill="#dcb455"/>
<rect x="339.4" y="137.9" width="3.7" height="4.8" fill="#dcb455"/>
<rect x="356.3" y="137.9" width="3.7" height="4.8" fill="#dcb455"/>
<rect x="373.2" y="137.9" width="3.7" height="4.8" fill="#dcb455"/>
<rect x="390.09" y="137.9" width="3.7" height="4.8" fill="#dcb455"/>
<rect x="406.99" y="137.9" width="3.7" height="4.8" fill="#dcb455"/>
<rect x="423.89" y="137.9" width="3.7" height="4.8" fill="#dcb455"/>
<rect x="440.78" y="137.9" width="3.7" height="4.8" fill="#dcb455"/>
<rect x="457.68" y="137.9" width="3.7" height="4.8" fill="#dcb455"/>
<rect x="474.58" y="137.9" width="3.7" height="4.8" fill="#dcb455"/>
<rect x="491.47" y="137.9" width="3.7" height="4.8" fill="#dcb455"/>
<rect x="508.37" y="137.9" width="3.7" height="4.8" fill="#dcb455"/>
<rect x="525.27" y="137.9" width="3.7" height="4.8" fill="#dcb455"/>
<rect x="542.17" y="137.9" width="3.7" height="4.8" fill="#dcb455"/>
<rect x="559.06" y="137.9" width="3.7" height="4.8" fill="#dcb455"/>
<path d="M319.31,283.15 L329.4,283.15 L332.8,286.75 L336.2,283.15 L346.3,283.15 L349.7,286.75 L353.1,283.15 L363.2,283.15 L366.6,286.75 L370,283.15 L380.09,283.15 L383.49,286.75 L386.89,283.15 L396.99,283.15 L400.39,286.75 L403.79,283.15 L413.89,283.15 L417.29,286.75 L420.69,283.15 L430.79,283.15 L434.19,286.75 L437.59,283.15 L447.68,283.15 L451.08,286.75 L454.48,283.15 L464.58,283.15 L467.98,286.75 L471.38,283.15 L481.48,283.15 L484.88,286.75 L488.28,283.15 L498.37,283.15 L501.77,286.75 L505.17,283.15 L515.27,283.15 L518.67,286.75 L522.07,283.15 L532.17,283.15 L535.57,286.75 L538.97,283.15 L549.06,283.15 L552.46,286.75 L555.86,283.15 L565.96,283.15 L569.36,286.75 L569.36,296.75 L565.96,300.35 L555.86,300.35 L552.46,296.75 L549.06,300.35 L538.97,300.35 L535.57,296.75 L532.17,300.35 L522.07,300.35 L518.67,296.75 L515.27,300.35 L505.17,300.35 L501.77,296.75 L498.37,300.35 L488.28,300.35 L484.88,296.75 L481.48,300.35 L471.38,300.35 L467.98,296.75 L464.58,300.35 L454.48,300.35 L451.08,296.75 L447.68,300.35 L437.59,300.35 L434.19,296.75 L430.79,300.35 L420.69,300.35 L417.29,296.75 L413.89,300.35 L403.79,300.35 L400.39,296.75 L396.99,300.35 L386.89,300.35 L383.49,296.75 L380.09,300.35 L370,300.35 L366.6,296.75 L363.2,300.35 L353.1,300.35 L349.7,296.75 L346.3,300.35 L336.2,300.35 L332.8,296.75 L329.4,300.35 L319.31,300.35 L315.91,296.75 L315.91,286.75 Z" fill="#484848"/>
<rect x="322.5" y="289.35" width="3.7" height="4.8" fill="#dcb455"/>
<rect x="339.4" y="289.35" width="3.7" height="4.8" fill="#dcb455"/>
<rect x="356.3" y="289.35" width="3.7" height="4.8" fill="#dcb455"/>
<rect x="373.2" y="289.35" width="3.7" height="4.8" fill="#dcb455"/>
<rect x="390.09" y="289.35" width="3.7" height="4.8" fill="#dcb455"/>
<rect x="406.99" y="289.35" width="3.7" height="4.8" fill="#dcb455"/>
<rect x="423.89" y="289.35" width="3.7" height="4.8" fill="#dcb455"/>
<rect x="440.78" y="289.35" width="3.7" height="4.8" fill="#dcb455"/>
<rect x="457.68" y="289.35" width="3.7" height="4.8" fill="#dcb455"/>
<rect x="474.58" y="289.35" width="3.7" height="4.8" fill="#dcb455"/>
<rect x="491.47" y="289.35" width="3.7" height="4.8" fill="#dcb455"/>
<rect x="508.37" y="289.35" width="3.7" height="4.8" fill="#dcb455"/>
<rect x="525.27" y="289.35" width="3.7" height="4.8" fill="#dcb455"/>
<rect x="542.17" y="289.35" width="3.7" height="4.8" fill="#dcb455"/>
<rect x="559.06" y="289.35" width="3.7" height="4.8" fill="#dcb455"/>
<text x="321.5" y="157.8" font-family="Liberation Mono" font-weight="bold" font-size="7" fill="#d9dae2" text-anchor="middle">D0</text>
<text x="338.62" y="157.8" font-family="Liberation Mono" font-weight="bold" font-size="7" fill="#d9dae2" text-anchor="middle">D1</text>
<text x="355.75" y="157.8" font-family="Liberation Mono" font-weight="bold" font-size="7" fill="#d9dae2" text-anchor="middle">D2</text>
<text x="372.88" y="157.8" font-family="Liberation Mono" font-weight="bold" font-size="7" fill="#d9dae2" text-anchor="middle">D3</text>
<text x="390" y="157.8" font-family="Liberation Mono" font-weight="bold" font-size="7" fill="#d9dae2" text-anchor="middle">D4</text>
<text x="407.12" y="157.8" font-family="Liberation Mono" font-weight="bold" font-size="7" fill="#d9dae2" text-anchor="middle">3V3</text>
<text x="424.25" y="157.8" font-family="Liberation Mono" font-weight="bold" font-size="7" fill="#d9dae2" text-anchor="middle">GND</text>
<text x="441.38" y="157.8" font-family="Liberation Mono" font-weight="bold" font-size="7" fill="#d9dae2" text-anchor="middle">D5</text>
<text x="458.5" y="157.8" font-family="Liberation Mono" font-weight="bold" font-size="7" fill="#d9dae2" text-anchor="middle">D6</text>
<text x="475.62" y="157.8" font-family="Liberation Mono" font-weight="bold" font-size="7" fill="#d9dae2" text-anchor="middle">D7</text>
<text x="492.75" y="157.8" font-family="Liberation Mono" font-weight="bold" font-size="7" fill="#d9dae2" text-anchor="middle">D8</text>
<text x="509.88" y="157.8" font-family="Liberation Mono" font-weight="bold" font-size="7" fill="#d9dae2" text-anchor="middle">RX</text>
<text x="527" y="157.8" font-family="Liberation Mono" font-weight="bold" font-size="7" fill="#d9dae2" text-anchor="middle">TX</text>
<text x="544.12" y="157.8" font-family="Liberation Mono" font-weight="bold" font-size="7" fill="#d9dae2" text-anchor="middle">GND</text>
<text x="561.25" y="157.8" font-family="Liberation Mono" font-weight="bold" font-size="7" fill="#d9dae2" text-anchor="middle">3V3</text>
<text x="0" y="0" transform="translate(325.6 274.6) rotate(180)" font-family="Liberation Mono" font-weight="bold" font-size="7" fill="#d9dae2" text-anchor="middle">A0</text>
<text x="0" y="0" transform="translate(342.5 274.6) rotate(180)" font-family="Liberation Mono" font-weight="bold" font-size="7" fill="#d9dae2" text-anchor="middle">RSV</text>
<text x="0" y="0" transform="translate(359.7 274.6) rotate(180)" font-family="Liberation Mono" font-weight="bold" font-size="7" fill="#d9dae2" text-anchor="middle">RSV</text>
<text x="0" y="0" transform="translate(376.8 274.6) rotate(180)" font-family="Liberation Mono" font-weight="bold" font-size="7" fill="#d9dae2" text-anchor="middle">SD3</text>
<text x="0" y="0" transform="translate(393.7 274.6) rotate(180)" font-family="Liberation Mono" font-weight="bold" font-size="7" fill="#d9dae2" text-anchor="middle">SD2</text>
<text x="0" y="0" transform="translate(410.9 274.6) rotate(180)" font-family="Liberation Mono" font-weight="bold" font-size="7" fill="#d9dae2" text-anchor="middle">SD1</text>
<text x="0" y="0" transform="translate(427.8 274.6) rotate(180)" font-family="Liberation Mono" font-weight="bold" font-size="7" fill="#d9dae2" text-anchor="middle">CMD</text>
<text x="0" y="0" transform="translate(444 274.6) rotate(180)" font-family="Liberation Mono" font-weight="bold" font-size="7" fill="#d9dae2" text-anchor="middle">SD0</text>
<text x="0" y="0" transform="translate(461 274.6) rotate(180)" font-family="Liberation Mono" font-weight="bold" font-size="7" fill="#d9dae2" text-anchor="middle">CLK</text>
<text x="0" y="0" transform="translate(478 274.6) rotate(180)" font-family="Liberation Mono" font-weight="bold" font-size="7" fill="#d9dae2" text-anchor="middle">GND</text>
<text x="0" y="0" transform="translate(494.9 274.6) rotate(180)" font-family="Liberation Mono" font-weight="bold" font-size="7" fill="#d9dae2" text-anchor="middle">3V3</text>
<text x="0" y="0" transform="translate(511.2 274.6) rotate(180)" font-family="Liberation Mono" font-weight="bold" font-size="7" fill="#d9dae2" text-anchor="middle">EN</text>
<text x="0" y="0" transform="translate(529.3 274.6) rotate(180)" font-family="Liberation Mono" font-weight="bold" font-size="7" fill="#d9dae2" text-anchor="middle">RST</text>
<text x="0" y="0" transform="translate(546.3 274.6) rotate(180)" font-family="Liberation Mono" font-weight="bold" font-size="7" fill="#d9dae2" text-anchor="middle">GND</text>
<text x="0" y="0" transform="translate(562.5 274.6) rotate(180)" font-family="Liberation Mono" font-weight="bold" font-size="7" fill="#d9dae2" text-anchor="middle">Vin</text>
<path d="M289.6,175.1 V202.0 H307.6 V210.9 H289.6 V219.8 H307.6 V228.7 H289.6 V237.6 H307.6 V246.6 H289.6 V257.6 H326.5 M316.7,201.5 V257.6" fill="none" stroke="#c99a30" stroke-width="2.8"/>
<rect x="325.9" y="169.9" width="102.7" height="91.6" fill="#645a58"/>
<rect x="326.8" y="174.9" width="100.9" height="79.4" fill="#373234"/>
<circle cx="344.4" cy="189.2" r="11.9" fill="#857870"/>
<rect x="366.2" y="177.6" width="57.2" height="23.2" rx="11.6" fill="#857870"/>
<text x="333.0" y="211.7" textLength="23.5" lengthAdjust="spacingAndGlyphs" font-family="Liberation Sans" font-size="6.6" fill="#e4e4e4">MODEL</text>
<text x="333.0" y="220.4" textLength="27.3" lengthAdjust="spacingAndGlyphs" font-family="Liberation Sans" font-size="6.6" fill="#e4e4e4">VENDOR</text>
<text x="370.5" y="211.7" textLength="43.4" lengthAdjust="spacingAndGlyphs" font-family="Liberation Sans" font-size="6.6" fill="#e4e4e4" xml:space="preserve">ESP8266MOD</text>
<text x="370.5" y="220.3" textLength="38.2" lengthAdjust="spacingAndGlyphs" font-family="Liberation Sans" font-size="6.6" fill="#e4e4e4" xml:space="preserve">AI/THINKER</text>
<text x="370.5" y="228.9" textLength="37.1" lengthAdjust="spacingAndGlyphs" font-family="Liberation Sans" font-size="6.6" fill="#e4e4e4" xml:space="preserve">ISM 2.4GHz</text>
<text x="370.5" y="236.9" textLength="38.8" lengthAdjust="spacingAndGlyphs" font-family="Liberation Sans" font-size="6.6" fill="#e4e4e4" xml:space="preserve">PA  +25dBm</text>
<text x="370.5" y="245.7" textLength="38.8" lengthAdjust="spacingAndGlyphs" font-family="Liberation Sans" font-size="6.6" fill="#e4e4e4" xml:space="preserve">802.11b/g/n</text>
<path d="M332.4,223.2 H346.4 V227.3 H336.7 V233.3 H344.2 V237.4 H336.7 V247.7 H332.4 Z" fill="#e6e6e6"/>
<circle cx="357.35" cy="235.3" r="11.45" fill="#e6e6e6"/>
<rect x="357.35" y="230.5" width="12.5" height="9.6" fill="#373234"/>
<circle cx="357.35" cy="235.3" r="7.1" fill="#e6e6e6"/>
<circle cx="357.35" cy="235.3" r="7.45" fill="none" stroke="#373234" stroke-width="0.7" opacity="0.6"/>
<circle cx="357.35" cy="235.3" r="3.4" fill="#373234"/>
<rect x="357.35" y="232.1" width="8" height="6.4" fill="#373234"/>
<rect x="438.1" y="180.35" width="14.8" height="5.6" fill="#b8aa78"/>
<rect x="443.1" y="180.35" width="5.5" height="5.6" fill="#030303"/>
<rect x="438.1" y="189.85" width="14.8" height="5.6" fill="#b8aa78"/>
<rect x="443.1" y="189.85" width="5.5" height="5.6" fill="#030303"/>
<rect x="438.1" y="198.65" width="14.8" height="5.6" fill="#b8aa78"/>
<rect x="443.1" y="198.65" width="5.5" height="5.6" fill="#030303"/>
<rect x="438.1" y="208.05" width="14.8" height="5.6" fill="#b8aa78"/>
<rect x="443.1" y="208.05" width="5.5" height="5.6" fill="#030303"/>
<rect x="438.1" y="216.85" width="14.8" height="5.6" fill="#b8aa78"/>
<rect x="443.1" y="216.85" width="5.5" height="5.6" fill="#030303"/>
<rect x="439" y="232.1" width="9.8" height="20.9" fill="#b5a571"/>
<rect x="440" y="236" width="7.8" height="13" fill="#e0b67f"/>
<path d="M439,240.6 L441,242.3 L439,244 Z M448.8,240.6 L446.8,242.3 L448.8,244 Z" fill="#c8d8f0"/>
<rect x="521" y="167.15" width="5.6" height="1.3" fill="#bfaa70"/>
<rect x="544.6" y="167.15" width="5.8" height="1.3" fill="#bfaa70"/>
<rect x="521" y="170.29" width="5.6" height="1.3" fill="#bfaa70"/>
<rect x="544.6" y="170.29" width="5.8" height="1.3" fill="#bfaa70"/>
<rect x="521" y="173.43" width="5.6" height="1.3" fill="#bfaa70"/>
<rect x="544.6" y="173.43" width="5.8" height="1.3" fill="#bfaa70"/>
<rect x="521" y="176.57" width="5.6" height="1.3" fill="#bfaa70"/>
<rect x="544.6" y="176.57" width="5.8" height="1.3" fill="#bfaa70"/>
<rect x="521" y="179.71" width="5.6" height="1.3" fill="#bfaa70"/>
<rect x="544.6" y="179.71" width="5.8" height="1.3" fill="#bfaa70"/>
<rect x="521" y="182.85" width="5.6" height="1.3" fill="#bfaa70"/>
<rect x="544.6" y="182.85" width="5.8" height="1.3" fill="#bfaa70"/>
<rect x="521" y="185.99" width="5.6" height="1.3" fill="#bfaa70"/>
<rect x="544.6" y="185.99" width="5.8" height="1.3" fill="#bfaa70"/>
<rect x="521" y="189.13" width="5.6" height="1.3" fill="#bfaa70"/>
<rect x="544.6" y="189.13" width="5.8" height="1.3" fill="#bfaa70"/>
<rect x="521" y="192.27" width="5.6" height="1.3" fill="#bfaa70"/>
<rect x="544.6" y="192.27" width="5.8" height="1.3" fill="#bfaa70"/>
<rect x="521" y="195.41" width="5.6" height="1.3" fill="#bfaa70"/>
<rect x="544.6" y="195.41" width="5.8" height="1.3" fill="#bfaa70"/>
<rect x="521" y="198.55" width="5.6" height="1.3" fill="#bfaa70"/>
<rect x="544.6" y="198.55" width="5.8" height="1.3" fill="#bfaa70"/>
<rect x="521" y="201.69" width="5.6" height="1.3" fill="#bfaa70"/>
<rect x="544.6" y="201.69" width="5.8" height="1.3" fill="#bfaa70"/>
<rect x="521" y="204.83" width="5.6" height="1.3" fill="#bfaa70"/>
<rect x="544.6" y="204.83" width="5.8" height="1.3" fill="#bfaa70"/>
<rect x="521" y="207.97" width="5.6" height="1.3" fill="#bfaa70"/>
<rect x="544.6" y="207.97" width="5.8" height="1.3" fill="#bfaa70"/>
<rect x="521" y="211.11" width="5.6" height="1.3" fill="#bfaa70"/>
<rect x="544.6" y="211.11" width="5.8" height="1.3" fill="#bfaa70"/>
<rect x="521" y="214.25" width="5.6" height="1.3" fill="#bfaa70"/>
<rect x="544.6" y="214.25" width="5.8" height="1.3" fill="#bfaa70"/>
<rect x="526.7" y="165.7" width="17.6" height="52.0" fill="#000" stroke="#7fa6e0" stroke-width="0.9"/>
<rect x="531" y="165.1" width="9.6" height="1.0" fill="#c8b070"/>
<rect x="531" y="217.3" width="9.6" height="1.0" fill="#c8b070"/>
<rect x="532.4" y="237.2" width="6.6" height="7.8" fill="#b5a574"/>
<rect x="526.3" y="252.1" width="6.1" height="6.5" fill="#b5a574"/>
<rect x="539.1" y="252.1" width="6.1" height="6.5" fill="#b5a574"/>
<rect x="525.7" y="244.9" width="20.5" height="7.3" fill="#000"/>
<path d="M524.6,252.5 V243.4 H531.8 M539.4,243.4 H547 V252.5" fill="none" stroke="#e8eef8" stroke-width="0.8"/>
<rect x="573.0" y="163.2" width="18.6" height="18.7" fill="#cbcbcb"/>
<circle cx="582.5" cy="172.8" r="6.5" fill="#1e1b1b"/>
<rect x="573.0" y="249.8" width="18.6" height="18.7" fill="#cbcbcb"/>
<circle cx="582.5" cy="259.3" r="6.5" fill="#1e1b1b"/>
<text x="0" y="0" transform="translate(570.7 171.8) rotate(-90)" font-family="Liberation Mono" font-weight="bold" font-size="7" fill="#e4e4e4" text-anchor="middle">FLASH</text>
<text x="0" y="0" transform="translate(570.7 258.1) rotate(-90)" font-family="Liberation Mono" font-weight="bold" font-size="7" fill="#e4e4e4" text-anchor="middle">RST</text>
<text x="470.3" y="230.2" font-family="Liberation Sans" font-size="8.9" fill="#414d80">arduinoecia.com.br</text>
<path d="M104.69,72.4 L104.69,122.4" fill="none" stroke="#8c0a0a" stroke-width="7.8" stroke-linecap="round" stroke-linejoin="round"/>
<path d="M104.69,72.4 L104.69,122.4" fill="none" stroke="#cc1818" stroke-width="5.0" stroke-linecap="round" stroke-linejoin="round"/>
<path d="M104.69,72.4 L111.1,72.4" stroke="#cf3030" stroke-width="6.2" stroke-linecap="round"/>
<circle cx="104.69" cy="72.4" r="4.0" fill="#8a0000"/>
<circle cx="104.69" cy="122.4" r="3.3" fill="#e86060" opacity="0.55"/>
<path d="M206.08,55.5 L206.08,122.4" fill="none" stroke="#141414" stroke-width="7.8" stroke-linecap="round" stroke-linejoin="round"/>
<path d="M206.08,55.5 L206.08,122.4" fill="none" stroke="#404040" stroke-width="5.0" stroke-linecap="round" stroke-linejoin="round"/>
<path d="M206.08,55.5 L212.2,55.5" stroke="#505050" stroke-width="6.2" stroke-linecap="round"/>
<circle cx="206.08" cy="55.5" r="4.0" fill="#000"/>
<circle cx="206.08" cy="122.4" r="3.3" fill="#888" opacity="0.55"/>
<path d="M138.49,122.4 L138.49,21.7 L358.15,21.7 L358.15,122.4" fill="none" stroke="#0f9fc8" stroke-width="7.8" stroke-linecap="round" stroke-linejoin="round"/>
<path d="M138.49,122.4 L138.49,21.7 L358.15,21.7 L358.15,122.4" fill="none" stroke="#36fdc9" stroke-width="4.6" stroke-linecap="round" stroke-linejoin="round"/>
<circle cx="138.49" cy="21.7" r="4.2" fill="#0f9fc8"/>
<circle cx="358.15" cy="21.7" r="4.2" fill="#0f9fc8"/>
<circle cx="138.49" cy="122.4" r="3.3" fill="#9ffff0" opacity="0.45"/>
<circle cx="358.15" cy="122.4" r="3.3" fill="#9ffff0" opacity="0.45"/>
<path d="M516.3,55.5 L516.3,98 L544.02,98 L544.02,122.4" fill="none" stroke="#141414" stroke-width="7.8" stroke-linecap="round" stroke-linejoin="round"/>
<path d="M516.3,55.5 L516.3,98 L544.02,98 L544.02,122.4" fill="none" stroke="#404040" stroke-width="5.0" stroke-linecap="round" stroke-linejoin="round"/>
<circle cx="516.3" cy="98" r="4.1" fill="#000"/>
<circle cx="544.02" cy="98" r="4.1" fill="#000"/>
<circle cx="516.3" cy="55.5" r="3.3" fill="#888" opacity="0.55"/>
<circle cx="544.02" cy="122.4" r="3.3" fill="#888" opacity="0.55"/>
<path d="M560.91,72.4 L560.91,122.4" fill="none" stroke="#8c0a0a" stroke-width="7.8" stroke-linecap="round" stroke-linejoin="round"/>
<path d="M560.91,72.4 L560.91,122.4" fill="none" stroke="#cc1818" stroke-width="5.0" stroke-linecap="round" stroke-linejoin="round"/>
<path d="M550.2,72.4 L560.91,72.4" stroke="#cf3030" stroke-width="6.2" stroke-linecap="round"/>
<circle cx="560.91" cy="72.4" r="4.0" fill="#8a0000"/>
<circle cx="550.2" cy="72.4" r="3.3" fill="#e86060" opacity="0.5"/>
<circle cx="560.91" cy="122.4" r="3.3" fill="#e86060" opacity="0.55"/>
</svg>
</body></html>
